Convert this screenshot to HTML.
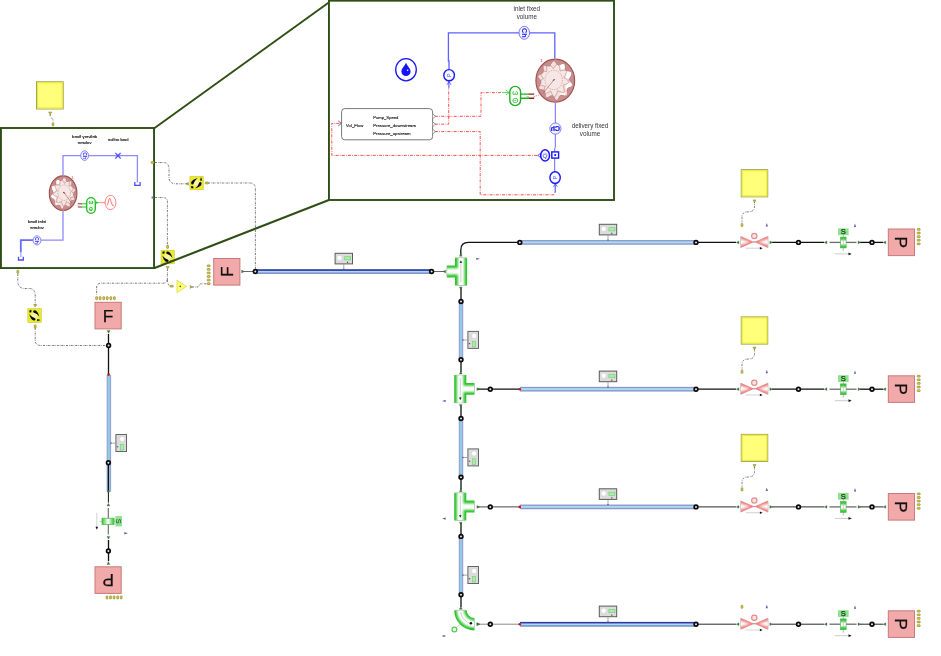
<!DOCTYPE html>
<html lang="en"><head><meta charset="utf-8"><title>Hydraulic circuit diagram</title>
<style>html,body{margin:0;padding:0;background:#fff}body{width:941px;height:656px;overflow:hidden}svg{display:block}</style>
</head><body>
<svg width="941" height="656" viewBox="0 0 941 656">
<defs>
<linearGradient id="gtee" x1="0" y1="0" x2="1" y2="0"><stop offset="0" stop-color="#2fc42f"/><stop offset="0.5" stop-color="#ffffff"/><stop offset="1" stop-color="#2fc42f"/></linearGradient>
<linearGradient id="gteeh" x1="0" y1="0" x2="0" y2="1"><stop offset="0" stop-color="#2fc42f"/><stop offset="0.5" stop-color="#ffffff"/><stop offset="1" stop-color="#2fc42f"/></linearGradient>
<linearGradient id="gcyl" x1="0" y1="0" x2="0" y2="1"><stop offset="0" stop-color="#2fc42f"/><stop offset="0.16" stop-color="#3cc83c"/><stop offset="0.4" stop-color="#ffffff"/><stop offset="0.6" stop-color="#ffffff"/><stop offset="0.84" stop-color="#3cc83c"/><stop offset="1" stop-color="#2fc42f"/></linearGradient>
<linearGradient id="gvL" x1="0" y1="0" x2="1" y2="0"><stop offset="0" stop-color="#ffffff"/><stop offset="1" stop-color="#ee7c7c"/></linearGradient>
<linearGradient id="gvR" x1="0" y1="0" x2="1" y2="0"><stop offset="0" stop-color="#ee7c7c"/><stop offset="1" stop-color="#ffffff"/></linearGradient>
<radialGradient id="gelb" cx="1" cy="0" r="1" gradientUnits="objectBoundingBox"><stop offset="0.42" stop-color="#2fc42f"/><stop offset="0.72" stop-color="#ffffff"/><stop offset="1" stop-color="#2fc42f"/></radialGradient>
<filter id="blur1" x="-20%" y="-20%" width="140%" height="140%"><feGaussianBlur stdDeviation="1.15"/></filter>
<filter id="blur08" x="-20%" y="-30%" width="140%" height="160%"><feGaussianBlur stdDeviation="0.8"/></filter>
<filter id="noop" x="0" y="0" width="941" height="656" filterUnits="userSpaceOnUse" color-interpolation-filters="sRGB"><feGaussianBlur stdDeviation="0.38"/></filter>
</defs>
<rect width="941" height="656" fill="#fff"/>
<g filter="url(#noop)">
<path d="M50.2 114 V116.5 L52.9 119.5 V122" fill="none" stroke="#4a4a4a" stroke-width="0.75" stroke-dasharray="2 1 0.6 1"/>
<path d="M155 162.5 H163 Q169 162.5 169 169 V177 Q169 183.8 176 183.8 H188" fill="none" stroke="#4a4a4a" stroke-width="0.75" stroke-dasharray="2 1 0.6 1"/>
<path d="M208 183 H250 Q255.4 183 255.4 189 V269" fill="none" stroke="#4a4a4a" stroke-width="0.75" stroke-dasharray="2 1 0.6 1"/>
<path d="M155 197.5 H163 Q167.4 197.5 167.4 202 V246" fill="none" stroke="#4a4a4a" stroke-width="0.75" stroke-dasharray="2 1 0.6 1"/>
<path d="M167.4 269 V279.5" fill="none" stroke="#4a4a4a" stroke-width="0.75" stroke-dasharray="2 1 0.6 1"/>
<path d="M167.2 279.5 Q166.6 283.2 163 283.2 H101 Q96.6 283.2 96.6 288 V295" fill="none" stroke="#4a4a4a" stroke-width="0.75" stroke-dasharray="2 1 0.6 1"/>
<path d="M167.4 279.5 Q167.6 286.2 171 286.2" fill="none" stroke="#4a4a4a" stroke-width="0.75" stroke-dasharray="2 1 0.6 1"/>
<path d="M192 287 H198 L200.4 283.8 H207" fill="none" stroke="#4a4a4a" stroke-width="0.75" stroke-dasharray="2 1 0.6 1"/>
<path d="M17.8 274 V281 Q17.8 288.5 25 288.5 H29 Q35.2 288.5 35.2 295 V305" fill="none" stroke="#4a4a4a" stroke-width="0.75" stroke-dasharray="2 1 0.6 1"/>
<path d="M35.2 328 V340 Q35.2 345.5 41 345.5 H106" fill="none" stroke="#4a4a4a" stroke-width="0.75" stroke-dasharray="2 1 0.6 1"/>
<path d="M754.5 201.3 V206.3 Q754.5 211.8 748 211.8 Q742 211.8 742 217.3 V222.3" fill="none" stroke="#4a4a4a" stroke-width="0.75" stroke-dasharray="2 1 0.6 1"/>
<path d="M754.5 348.6 V353.6 Q754.5 359.1 748 359.1 Q742 359.1 742 364.6 V369.6" fill="none" stroke="#4a4a4a" stroke-width="0.75" stroke-dasharray="2 1 0.6 1"/>
<path d="M754.5 466.5 V471.5 Q754.5 477.0 748 477.0 Q742 477.0 742 482.5 V487.5" fill="none" stroke="#4a4a4a" stroke-width="0.75" stroke-dasharray="2 1 0.6 1"/>
<path d="M244 271.5 H255" fill="none" stroke="#555" stroke-width="0.9"/>
<path d="M432 271.5 H444" fill="none" stroke="#555" stroke-width="0.9"/>
<path d="M460.8 255 V250 Q460.8 242.4 468.5 242.4 H519" fill="none" stroke="#111" stroke-width="1.3"/>
<path d="M108.5 334 V374" fill="none" stroke="#111" stroke-width="1.3"/>
<path d="M108.4 491 V502.6" fill="none" stroke="#111" stroke-width="1"/>
<path d="M108.5 540 V561" fill="none" stroke="#111" stroke-width="1.3"/>
<path d="M461 288 V301" fill="none" stroke="#111" stroke-width="1.3"/>
<path d="M461 359 V372" fill="none" stroke="#111" stroke-width="1.3"/>
<path d="M461 406 V418" fill="none" stroke="#111" stroke-width="1.3"/>
<path d="M461 477 V490" fill="none" stroke="#111" stroke-width="1.3"/>
<path d="M461 523 V536" fill="none" stroke="#111" stroke-width="1.3"/>
<path d="M461 594 V607" fill="none" stroke="#111" stroke-width="1.3"/>
<rect x="256" y="269.1" width="175" height="4.8" fill="#8a9ad6"/>
<rect x="256" y="269.5" width="175" height="1.35" fill="#1c1c9e"/>
<rect x="256" y="270.85" width="175" height="1.75" fill="#a6dcf0"/>
<rect x="256" y="272.6" width="175" height="1.2" fill="#7c93c8"/>
<rect x="520" y="240.05" width="175" height="4.7" fill="#8e95cc"/>
<rect x="520" y="241.35" width="175" height="2.0" fill="#a8dcf0"/>
<rect x="520" y="386.84999999999997" width="175" height="4.7" fill="#8e95cc"/>
<rect x="520" y="388.15" width="175" height="2.0" fill="#a8dcf0"/>
<rect x="520" y="504.54999999999995" width="175" height="4.7" fill="#8e95cc"/>
<rect x="520" y="505.84999999999997" width="175" height="2.0" fill="#a8dcf0"/>
<rect x="520" y="621.8000000000001" width="175" height="4.8" fill="#8a9ad6"/>
<rect x="520" y="622.2" width="175" height="1.35" fill="#1c1c9e"/>
<rect x="520" y="623.5500000000001" width="175" height="1.75" fill="#a6dcf0"/>
<rect x="520" y="625.3000000000001" width="175" height="1.2" fill="#7c93c8"/>
<rect x="458.8" y="302" width="4.4" height="57" fill="#8a92cc"/>
<rect x="459.55" y="302" width="2.9" height="57" fill="#96c8e6"/>
<rect x="458.8" y="419" width="4.4" height="58" fill="#8a92cc"/>
<rect x="459.55" y="419" width="2.9" height="58" fill="#96c8e6"/>
<rect x="458.8" y="537" width="4.4" height="57" fill="#8a92cc"/>
<rect x="459.55" y="537" width="2.9" height="57" fill="#96c8e6"/>
<rect x="106.7" y="375" width="4.4" height="116.60000000000002" fill="#8a92cc"/>
<rect x="107.45" y="375" width="2.9" height="116.60000000000002" fill="#96c8e6"/>
<line x1="108.4" y1="462.7" x2="108.4" y2="491.4" stroke="#111" stroke-width="1.3"/>
<circle cx="108.4" cy="491.4" r="1.2" fill="#2f7f2f"/>
<circle cx="519.8" cy="242.4" r="1.85" fill="#e8e8e8" stroke="#0a0a0a" stroke-width="1.7"/>
<path d="M696 242.4 H736" fill="none" stroke="#111" stroke-width="1.3"/>
<path d="M772 242.4 H824" fill="none" stroke="#111" stroke-width="1.3"/>
<path d="M860 242.4 H883" fill="none" stroke="#111" stroke-width="1.3"/>
<circle cx="696" cy="242.4" r="1.85" fill="#e8e8e8" stroke="#0a0a0a" stroke-width="1.7"/>
<polygon points="739.0,241.0 736.2,242.4 739.0,243.8" fill="#3d7a3d" stroke="#2f5f2f" stroke-width="0.3"/>
<polygon points="769.8000000000001,241.0 772.6,242.4 769.8000000000001,243.8" fill="#3d7a3d" stroke="#2f5f2f" stroke-width="0.3"/>
<clipPath id="vc1"><polygon points="740.5,236.0 754.3,242.0 740.5,248.0"/><polygon points="768.0999999999999,236.0 754.3,242.0 768.0999999999999,248.0"/></clipPath>
<polygon points="740.5,236.0 754.3,242.0 740.5,248.0" fill="#ee8080"/><polygon points="768.0999999999999,236.0 754.3,242.0 768.0999999999999,248.0" fill="#ee8080"/>
<g clip-path="url(#vc1)"><g filter="url(#blur08)"><polygon points="737.5,238.2 750.3,242.0 737.5,245.8" fill="#fff"/><polygon points="771.0999999999999,238.2 758.3,242.0 771.0999999999999,245.8" fill="#fff"/></g></g>
<line x1="740.5" y1="236.6" x2="740.5" y2="247.4" stroke="#c8c8c8" stroke-width="0.7"/>
<line x1="768.0999999999999" y1="236.6" x2="768.0999999999999" y2="247.4" stroke="#c8c8c8" stroke-width="0.7"/>
<circle cx="754.3" cy="236.0" r="2.65" fill="#fbe6e6" stroke="#e88a8a" stroke-width="1.2"/>
<rect x="753.4" y="241.4" width="1.8" height="1.2" fill="#999"/>
<line x1="745.8" y1="248.2" x2="760.3" y2="248.2" stroke="#c0c0c0" stroke-width="0.7"/>
<polygon points="759.9,247.0 762.5999999999999,248.2 759.9,249.4" fill="#111"/>
<circle cx="798.5" cy="242.4" r="1.85" fill="#e8e8e8" stroke="#0a0a0a" stroke-width="1.7"/>
<polygon points="827.0,241.0 824.2,242.4 827.0,243.8" fill="#3d7a3d" stroke="#2f5f2f" stroke-width="0.3"/>
<polygon points="858.0,241.0 860.8,242.4 858.0,243.8" fill="#3d7a3d" stroke="#2f5f2f" stroke-width="0.3"/>
<line x1="829.5" y1="242.4" x2="856.5" y2="242.4" stroke="#6c6c6c" stroke-width="1.3"/>
<line x1="843.3" y1="234.9" x2="843.3" y2="250.9" stroke="#888" stroke-width="0.6"/>
<rect x="840.5" y="237.1" width="5.6" height="10.8" fill="url(#gcyl)" stroke="#3fb83f" stroke-width="0.6"/>
<line x1="843.3" y1="237.8" x2="843.3" y2="247.0" stroke="#b0b0b0" stroke-width="0.6"/>
<rect x="838.0" y="228.4" width="10.6" height="6.8" fill="#8fe28f"/>
<text x="843.3" y="234.4" font-family="'Liberation Sans', sans-serif" font-size="7.6" text-anchor="middle" fill="#143214" stroke="#143214" stroke-width="0.25">S</text>
<line x1="834.8" y1="253.9" x2="849.3" y2="253.9" stroke="#aaa" stroke-width="0.6"/>
<polygon points="848.5,252.5 851.6999999999999,253.9 848.5,255.3" fill="#111"/>
<circle cx="872" cy="242.4" r="1.85" fill="#e8e8e8" stroke="#0a0a0a" stroke-width="1.7"/>
<polygon points="885.8,241.0 883.0,242.4 885.8,243.8" fill="#3d7a3d" stroke="#2f5f2f" stroke-width="0.3"/>
<rect x="888.3" y="229.0" width="26.2" height="26.6" fill="#f2a9a9" stroke="#c97a7a" stroke-width="1"/>
<text x="901.4" y="242.3" font-family="'Liberation Sans', sans-serif" font-size="17.4" text-anchor="middle" dominant-baseline="central" fill="#111" stroke="#111" stroke-width="0.25" transform="rotate(90 901.4 242.3)">P</text>
<rect x="917.2" y="228.5" width="3" height="1.8" rx="0.5" fill="#e2d42e" stroke="#77702a" stroke-width="0.55"/>
<rect x="917.2" y="232.1" width="3" height="1.8" rx="0.5" fill="#e2d42e" stroke="#77702a" stroke-width="0.55"/>
<rect x="917.2" y="235.7" width="3" height="1.8" rx="0.5" fill="#e2d42e" stroke="#77702a" stroke-width="0.55"/>
<rect x="917.2" y="239.3" width="3" height="1.8" rx="0.5" fill="#e2d42e" stroke="#77702a" stroke-width="0.55"/>
<rect x="917.2" y="242.9" width="3" height="1.8" rx="0.5" fill="#e2d42e" stroke="#77702a" stroke-width="0.55"/>
<rect x="741.1" y="223.5" width="1.8" height="3" rx="0.5" fill="#e2d42e" stroke="#77702a" stroke-width="0.55"/>
<polygon points="765.6999999999999,226.4 766.8,223.0 767.9,226.4" fill="#5a5aa0"/>
<polygon points="853.9,227.0 855,223.6 856.1,227.0" fill="#5a5aa0"/>
<line x1="608.0" y1="235.4" x2="608.0" y2="240.4" stroke="#aaa" stroke-width="1"/>
<rect x="607.4" y="239.5" width="1.2" height="1.2" fill="#556"/>
<rect x="599.3" y="224.3" width="17.4" height="10.6" fill="#dcdcdc" stroke="#5a5a5a" stroke-width="1"/>
<circle cx="603.6999999999999" cy="228.9" r="2.7" fill="#fff" stroke="#c4c4c4" stroke-width="0.5"/>
<rect x="608.9" y="227.70000000000002" width="6" height="3.2" fill="#a4f2a4" stroke="#7ac87a" stroke-width="0.6"/>
<rect x="611.3" y="232.70000000000002" width="1" height="1.4" fill="#444"/>
<path d="M478 389.2 H519" fill="none" stroke="#111" stroke-width="1.2"/>
<circle cx="519.8" cy="389.2" r="1.3" fill="#d01010"/>
<circle cx="490.3" cy="389.2" r="1.85" fill="#e8e8e8" stroke="#0a0a0a" stroke-width="1.7"/>
<polygon points="476.90000000000003,387.8 479.7,389.2 476.90000000000003,390.59999999999997" fill="#3d7a3d" stroke="#2f5f2f" stroke-width="0.3"/>
<path d="M696 389.2 H736" fill="none" stroke="#111" stroke-width="1.3"/>
<path d="M772 389.2 H824" fill="none" stroke="#111" stroke-width="1.3"/>
<path d="M860 389.2 H883" fill="none" stroke="#111" stroke-width="1.3"/>
<circle cx="696" cy="389.2" r="1.85" fill="#e8e8e8" stroke="#0a0a0a" stroke-width="1.7"/>
<polygon points="739.0,387.8 736.2,389.2 739.0,390.59999999999997" fill="#3d7a3d" stroke="#2f5f2f" stroke-width="0.3"/>
<polygon points="769.8000000000001,387.8 772.6,389.2 769.8000000000001,390.59999999999997" fill="#3d7a3d" stroke="#2f5f2f" stroke-width="0.3"/>
<clipPath id="vc2"><polygon points="740.5,382.8 754.3,388.8 740.5,394.8"/><polygon points="768.0999999999999,382.8 754.3,388.8 768.0999999999999,394.8"/></clipPath>
<polygon points="740.5,382.8 754.3,388.8 740.5,394.8" fill="#ee8080"/><polygon points="768.0999999999999,382.8 754.3,388.8 768.0999999999999,394.8" fill="#ee8080"/>
<g clip-path="url(#vc2)"><g filter="url(#blur08)"><polygon points="737.5,385.0 750.3,388.8 737.5,392.6" fill="#fff"/><polygon points="771.0999999999999,385.0 758.3,388.8 771.0999999999999,392.6" fill="#fff"/></g></g>
<line x1="740.5" y1="383.40000000000003" x2="740.5" y2="394.2" stroke="#c8c8c8" stroke-width="0.7"/>
<line x1="768.0999999999999" y1="383.40000000000003" x2="768.0999999999999" y2="394.2" stroke="#c8c8c8" stroke-width="0.7"/>
<circle cx="754.3" cy="382.8" r="2.65" fill="#fbe6e6" stroke="#e88a8a" stroke-width="1.2"/>
<rect x="753.4" y="388.2" width="1.8" height="1.2" fill="#999"/>
<line x1="745.8" y1="395.0" x2="760.3" y2="395.0" stroke="#c0c0c0" stroke-width="0.7"/>
<polygon points="759.9,393.8 762.5999999999999,395.0 759.9,396.2" fill="#111"/>
<circle cx="798.5" cy="389.2" r="1.85" fill="#e8e8e8" stroke="#0a0a0a" stroke-width="1.7"/>
<polygon points="827.0,387.8 824.2,389.2 827.0,390.59999999999997" fill="#3d7a3d" stroke="#2f5f2f" stroke-width="0.3"/>
<polygon points="858.0,387.8 860.8,389.2 858.0,390.59999999999997" fill="#3d7a3d" stroke="#2f5f2f" stroke-width="0.3"/>
<line x1="829.5" y1="389.2" x2="856.5" y2="389.2" stroke="#6c6c6c" stroke-width="1.3"/>
<line x1="843.3" y1="381.7" x2="843.3" y2="397.7" stroke="#888" stroke-width="0.6"/>
<rect x="840.5" y="383.9" width="5.6" height="10.8" fill="url(#gcyl)" stroke="#3fb83f" stroke-width="0.6"/>
<line x1="843.3" y1="384.59999999999997" x2="843.3" y2="393.8" stroke="#b0b0b0" stroke-width="0.6"/>
<rect x="838.0" y="375.2" width="10.6" height="6.8" fill="#8fe28f"/>
<text x="843.3" y="381.2" font-family="'Liberation Sans', sans-serif" font-size="7.6" text-anchor="middle" fill="#143214" stroke="#143214" stroke-width="0.25">S</text>
<line x1="834.8" y1="400.7" x2="849.3" y2="400.7" stroke="#aaa" stroke-width="0.6"/>
<polygon points="848.5,399.3 851.6999999999999,400.7 848.5,402.09999999999997" fill="#111"/>
<circle cx="872" cy="389.2" r="1.85" fill="#e8e8e8" stroke="#0a0a0a" stroke-width="1.7"/>
<polygon points="885.8,387.8 883.0,389.2 885.8,390.59999999999997" fill="#3d7a3d" stroke="#2f5f2f" stroke-width="0.3"/>
<rect x="888.3" y="375.8" width="26.2" height="26.6" fill="#f2a9a9" stroke="#c97a7a" stroke-width="1"/>
<text x="901.4" y="389.1" font-family="'Liberation Sans', sans-serif" font-size="17.4" text-anchor="middle" dominant-baseline="central" fill="#111" stroke="#111" stroke-width="0.25" transform="rotate(90 901.4 389.1)">P</text>
<rect x="917.2" y="375.3" width="3" height="1.8" rx="0.5" fill="#e2d42e" stroke="#77702a" stroke-width="0.55"/>
<rect x="917.2" y="378.90000000000003" width="3" height="1.8" rx="0.5" fill="#e2d42e" stroke="#77702a" stroke-width="0.55"/>
<rect x="917.2" y="382.5" width="3" height="1.8" rx="0.5" fill="#e2d42e" stroke="#77702a" stroke-width="0.55"/>
<rect x="917.2" y="386.1" width="3" height="1.8" rx="0.5" fill="#e2d42e" stroke="#77702a" stroke-width="0.55"/>
<rect x="917.2" y="389.7" width="3" height="1.8" rx="0.5" fill="#e2d42e" stroke="#77702a" stroke-width="0.55"/>
<rect x="741.1" y="370.3" width="1.8" height="3" rx="0.5" fill="#e2d42e" stroke="#77702a" stroke-width="0.55"/>
<polygon points="765.6999999999999,373.2 766.8,369.79999999999995 767.9,373.2" fill="#5a5aa0"/>
<polygon points="853.9,373.8 855,370.4 856.1,373.8" fill="#5a5aa0"/>
<line x1="608.0" y1="382.2" x2="608.0" y2="387.2" stroke="#aaa" stroke-width="1"/>
<rect x="607.4" y="386.3" width="1.2" height="1.2" fill="#556"/>
<rect x="599.3" y="371.09999999999997" width="17.4" height="10.6" fill="#dcdcdc" stroke="#5a5a5a" stroke-width="1"/>
<circle cx="603.6999999999999" cy="375.7" r="2.7" fill="#fff" stroke="#c4c4c4" stroke-width="0.5"/>
<rect x="608.9" y="374.49999999999994" width="6" height="3.2" fill="#a4f2a4" stroke="#7ac87a" stroke-width="0.6"/>
<rect x="611.3" y="379.49999999999994" width="1" height="1.4" fill="#444"/>
<path d="M478 506.9 H519" fill="none" stroke="#333" stroke-width="0.9"/>
<circle cx="519.8" cy="506.9" r="1.3" fill="#d01010"/>
<circle cx="490.3" cy="506.9" r="1.85" fill="#e8e8e8" stroke="#0a0a0a" stroke-width="1.7"/>
<polygon points="476.90000000000003,505.5 479.7,506.9 476.90000000000003,508.29999999999995" fill="#3d7a3d" stroke="#2f5f2f" stroke-width="0.3"/>
<path d="M696 506.9 H736" fill="none" stroke="#111" stroke-width="0.9"/>
<path d="M772 506.9 H824" fill="none" stroke="#111" stroke-width="0.9"/>
<path d="M860 506.9 H883" fill="none" stroke="#111" stroke-width="0.9"/>
<circle cx="696" cy="506.9" r="1.85" fill="#e8e8e8" stroke="#0a0a0a" stroke-width="1.7"/>
<polygon points="739.0,505.5 736.2,506.9 739.0,508.29999999999995" fill="#3d7a3d" stroke="#2f5f2f" stroke-width="0.3"/>
<polygon points="769.8000000000001,505.5 772.6,506.9 769.8000000000001,508.29999999999995" fill="#3d7a3d" stroke="#2f5f2f" stroke-width="0.3"/>
<clipPath id="vc3"><polygon points="740.5,500.5 754.3,506.5 740.5,512.5"/><polygon points="768.0999999999999,500.5 754.3,506.5 768.0999999999999,512.5"/></clipPath>
<polygon points="740.5,500.5 754.3,506.5 740.5,512.5" fill="#ee8080"/><polygon points="768.0999999999999,500.5 754.3,506.5 768.0999999999999,512.5" fill="#ee8080"/>
<g clip-path="url(#vc3)"><g filter="url(#blur08)"><polygon points="737.5,502.7 750.3,506.5 737.5,510.3" fill="#fff"/><polygon points="771.0999999999999,502.7 758.3,506.5 771.0999999999999,510.3" fill="#fff"/></g></g>
<line x1="740.5" y1="501.1" x2="740.5" y2="511.9" stroke="#c8c8c8" stroke-width="0.7"/>
<line x1="768.0999999999999" y1="501.1" x2="768.0999999999999" y2="511.9" stroke="#c8c8c8" stroke-width="0.7"/>
<circle cx="754.3" cy="500.5" r="2.65" fill="#fbe6e6" stroke="#e88a8a" stroke-width="1.2"/>
<rect x="753.4" y="505.9" width="1.8" height="1.2" fill="#999"/>
<line x1="745.8" y1="512.7" x2="760.3" y2="512.7" stroke="#c0c0c0" stroke-width="0.7"/>
<polygon points="759.9,511.5 762.5999999999999,512.7 759.9,513.9" fill="#111"/>
<circle cx="798.5" cy="506.9" r="1.85" fill="#e8e8e8" stroke="#0a0a0a" stroke-width="1.7"/>
<polygon points="827.0,505.5 824.2,506.9 827.0,508.29999999999995" fill="#3d7a3d" stroke="#2f5f2f" stroke-width="0.3"/>
<polygon points="858.0,505.5 860.8,506.9 858.0,508.29999999999995" fill="#3d7a3d" stroke="#2f5f2f" stroke-width="0.3"/>
<line x1="829.5" y1="506.9" x2="856.5" y2="506.9" stroke="#6c6c6c" stroke-width="1.3"/>
<line x1="843.3" y1="499.4" x2="843.3" y2="515.4" stroke="#888" stroke-width="0.6"/>
<rect x="840.5" y="501.59999999999997" width="5.6" height="10.8" fill="url(#gcyl)" stroke="#3fb83f" stroke-width="0.6"/>
<line x1="843.3" y1="502.29999999999995" x2="843.3" y2="511.5" stroke="#b0b0b0" stroke-width="0.6"/>
<rect x="838.0" y="492.9" width="10.6" height="6.8" fill="#8fe28f"/>
<text x="843.3" y="498.9" font-family="'Liberation Sans', sans-serif" font-size="7.6" text-anchor="middle" fill="#143214" stroke="#143214" stroke-width="0.25">S</text>
<line x1="834.8" y1="518.4" x2="849.3" y2="518.4" stroke="#aaa" stroke-width="0.6"/>
<polygon points="848.5,517.0 851.6999999999999,518.4 848.5,519.8" fill="#111"/>
<circle cx="872" cy="506.9" r="1.85" fill="#e8e8e8" stroke="#0a0a0a" stroke-width="1.7"/>
<polygon points="885.8,505.5 883.0,506.9 885.8,508.29999999999995" fill="#3d7a3d" stroke="#2f5f2f" stroke-width="0.3"/>
<rect x="888.3" y="493.5" width="26.2" height="26.6" fill="#f2a9a9" stroke="#c97a7a" stroke-width="1"/>
<text x="901.4" y="506.8" font-family="'Liberation Sans', sans-serif" font-size="17.4" text-anchor="middle" dominant-baseline="central" fill="#111" stroke="#111" stroke-width="0.25" transform="rotate(90 901.4 506.8)">P</text>
<rect x="917.2" y="493.0" width="3" height="1.8" rx="0.5" fill="#e2d42e" stroke="#77702a" stroke-width="0.55"/>
<rect x="917.2" y="496.6" width="3" height="1.8" rx="0.5" fill="#e2d42e" stroke="#77702a" stroke-width="0.55"/>
<rect x="917.2" y="500.2" width="3" height="1.8" rx="0.5" fill="#e2d42e" stroke="#77702a" stroke-width="0.55"/>
<rect x="917.2" y="503.8" width="3" height="1.8" rx="0.5" fill="#e2d42e" stroke="#77702a" stroke-width="0.55"/>
<rect x="917.2" y="507.4" width="3" height="1.8" rx="0.5" fill="#e2d42e" stroke="#77702a" stroke-width="0.55"/>
<rect x="741.1" y="488.0" width="1.8" height="3" rx="0.5" fill="#e2d42e" stroke="#77702a" stroke-width="0.55"/>
<polygon points="765.6999999999999,490.9 766.8,487.49999999999994 767.9,490.9" fill="#5a5aa0"/>
<polygon points="853.9,491.5 855,488.09999999999997 856.1,491.5" fill="#5a5aa0"/>
<line x1="608.0" y1="499.9" x2="608.0" y2="504.9" stroke="#aaa" stroke-width="1"/>
<rect x="607.4" y="504.0" width="1.2" height="1.2" fill="#556"/>
<rect x="599.3" y="488.79999999999995" width="17.4" height="10.6" fill="#dcdcdc" stroke="#5a5a5a" stroke-width="1"/>
<circle cx="603.6999999999999" cy="493.4" r="2.7" fill="#fff" stroke="#c4c4c4" stroke-width="0.5"/>
<rect x="608.9" y="492.19999999999993" width="6" height="3.2" fill="#a4f2a4" stroke="#7ac87a" stroke-width="0.6"/>
<rect x="611.3" y="497.19999999999993" width="1" height="1.4" fill="#444"/>
<path d="M478 624.2 H519" fill="none" stroke="#8a8a8a" stroke-width="1"/>
<circle cx="519.8" cy="624.2" r="1.3" fill="#d01010"/>
<circle cx="490.3" cy="624.2" r="1.85" fill="#e8e8e8" stroke="#0a0a0a" stroke-width="1.7"/>
<polygon points="476.90000000000003,622.8000000000001 479.7,624.2 476.90000000000003,625.6" fill="#3d7a3d" stroke="#2f5f2f" stroke-width="0.3"/>
<path d="M696 624.2 H736" fill="none" stroke="#111" stroke-width="0.9"/>
<path d="M772 624.2 H824" fill="none" stroke="#111" stroke-width="0.9"/>
<path d="M860 624.2 H883" fill="none" stroke="#111" stroke-width="0.9"/>
<circle cx="696" cy="624.2" r="1.85" fill="#e8e8e8" stroke="#0a0a0a" stroke-width="1.7"/>
<polygon points="739.0,622.8000000000001 736.2,624.2 739.0,625.6" fill="#3d7a3d" stroke="#2f5f2f" stroke-width="0.3"/>
<polygon points="769.8000000000001,622.8000000000001 772.6,624.2 769.8000000000001,625.6" fill="#3d7a3d" stroke="#2f5f2f" stroke-width="0.3"/>
<clipPath id="vc4"><polygon points="740.5,617.8000000000001 754.3,623.8000000000001 740.5,629.8000000000001"/><polygon points="768.0999999999999,617.8000000000001 754.3,623.8000000000001 768.0999999999999,629.8000000000001"/></clipPath>
<polygon points="740.5,617.8000000000001 754.3,623.8000000000001 740.5,629.8000000000001" fill="#ee8080"/><polygon points="768.0999999999999,617.8000000000001 754.3,623.8000000000001 768.0999999999999,629.8000000000001" fill="#ee8080"/>
<g clip-path="url(#vc4)"><g filter="url(#blur08)"><polygon points="737.5,620.0000000000001 750.3,623.8000000000001 737.5,627.6" fill="#fff"/><polygon points="771.0999999999999,620.0000000000001 758.3,623.8000000000001 771.0999999999999,627.6" fill="#fff"/></g></g>
<line x1="740.5" y1="618.4000000000001" x2="740.5" y2="629.2" stroke="#c8c8c8" stroke-width="0.7"/>
<line x1="768.0999999999999" y1="618.4000000000001" x2="768.0999999999999" y2="629.2" stroke="#c8c8c8" stroke-width="0.7"/>
<circle cx="754.3" cy="617.8000000000001" r="2.65" fill="#fbe6e6" stroke="#e88a8a" stroke-width="1.2"/>
<rect x="753.4" y="623.2" width="1.8" height="1.2" fill="#999"/>
<line x1="745.8" y1="630.0000000000001" x2="760.3" y2="630.0000000000001" stroke="#c0c0c0" stroke-width="0.7"/>
<polygon points="759.9,628.8000000000001 762.5999999999999,630.0000000000001 759.9,631.2" fill="#111"/>
<circle cx="798.5" cy="624.2" r="1.85" fill="#e8e8e8" stroke="#0a0a0a" stroke-width="1.7"/>
<polygon points="827.0,622.8000000000001 824.2,624.2 827.0,625.6" fill="#3d7a3d" stroke="#2f5f2f" stroke-width="0.3"/>
<polygon points="858.0,622.8000000000001 860.8,624.2 858.0,625.6" fill="#3d7a3d" stroke="#2f5f2f" stroke-width="0.3"/>
<line x1="829.5" y1="624.2" x2="856.5" y2="624.2" stroke="#6c6c6c" stroke-width="1.3"/>
<line x1="843.3" y1="616.7" x2="843.3" y2="632.7" stroke="#888" stroke-width="0.6"/>
<rect x="840.5" y="618.9000000000001" width="5.6" height="10.8" fill="url(#gcyl)" stroke="#3fb83f" stroke-width="0.6"/>
<line x1="843.3" y1="619.6" x2="843.3" y2="628.8000000000001" stroke="#b0b0b0" stroke-width="0.6"/>
<rect x="838.0" y="610.2" width="10.6" height="6.8" fill="#8fe28f"/>
<text x="843.3" y="616.2" font-family="'Liberation Sans', sans-serif" font-size="7.6" text-anchor="middle" fill="#143214" stroke="#143214" stroke-width="0.25">S</text>
<line x1="834.8" y1="635.7" x2="849.3" y2="635.7" stroke="#aaa" stroke-width="0.6"/>
<polygon points="848.5,634.3000000000001 851.6999999999999,635.7 848.5,637.1" fill="#111"/>
<circle cx="872" cy="624.2" r="1.85" fill="#e8e8e8" stroke="#0a0a0a" stroke-width="1.7"/>
<polygon points="885.8,622.8000000000001 883.0,624.2 885.8,625.6" fill="#3d7a3d" stroke="#2f5f2f" stroke-width="0.3"/>
<rect x="888.3" y="610.8000000000001" width="26.2" height="26.6" fill="#f2a9a9" stroke="#c97a7a" stroke-width="1"/>
<text x="901.4" y="624.1" font-family="'Liberation Sans', sans-serif" font-size="17.4" text-anchor="middle" dominant-baseline="central" fill="#111" stroke="#111" stroke-width="0.25" transform="rotate(90 901.4 624.1)">P</text>
<rect x="917.2" y="610.3000000000001" width="3" height="1.8" rx="0.5" fill="#e2d42e" stroke="#77702a" stroke-width="0.55"/>
<rect x="917.2" y="613.9000000000001" width="3" height="1.8" rx="0.5" fill="#e2d42e" stroke="#77702a" stroke-width="0.55"/>
<rect x="917.2" y="617.5000000000001" width="3" height="1.8" rx="0.5" fill="#e2d42e" stroke="#77702a" stroke-width="0.55"/>
<rect x="917.2" y="621.1" width="3" height="1.8" rx="0.5" fill="#e2d42e" stroke="#77702a" stroke-width="0.55"/>
<rect x="917.2" y="624.7" width="3" height="1.8" rx="0.5" fill="#e2d42e" stroke="#77702a" stroke-width="0.55"/>
<rect x="741.1" y="605.3000000000001" width="1.8" height="3" rx="0.5" fill="#e2d42e" stroke="#77702a" stroke-width="0.55"/>
<polygon points="765.6999999999999,608.2 766.8,604.8000000000001 767.9,608.2" fill="#5a5aa0"/>
<polygon points="853.9,608.8000000000001 855,605.4000000000001 856.1,608.8000000000001" fill="#5a5aa0"/>
<line x1="608.0" y1="617.2" x2="608.0" y2="622.2" stroke="#aaa" stroke-width="1"/>
<rect x="607.4" y="621.3000000000001" width="1.2" height="1.2" fill="#556"/>
<rect x="599.3" y="606.1" width="17.4" height="10.6" fill="#dcdcdc" stroke="#5a5a5a" stroke-width="1"/>
<circle cx="603.6999999999999" cy="610.7" r="2.7" fill="#fff" stroke="#c4c4c4" stroke-width="0.5"/>
<rect x="608.9" y="609.5" width="6" height="3.2" fill="#a4f2a4" stroke="#7ac87a" stroke-width="0.6"/>
<rect x="611.3" y="614.5" width="1" height="1.4" fill="#444"/>
<rect x="741.1999999999999" y="169.70000000000002" width="26.599999999999998" height="27.2" fill="#ffff7a" stroke="#8e8e3a" stroke-width="0.8"/>
<rect x="742.1999999999999" y="170.70000000000002" width="24.599999999999998" height="25.2" fill="none" stroke="#eaea44" stroke-width="1.2"/>
<polygon points="753,199.9 756,199.9 754.5,202.70000000000002" fill="#c9c030" stroke="#6b6b20" stroke-width="0.4"/>
<rect x="741.1999999999999" y="316.9" width="26.599999999999998" height="27.2" fill="#ffff7a" stroke="#8e8e3a" stroke-width="0.8"/>
<rect x="742.1999999999999" y="317.9" width="24.599999999999998" height="25.2" fill="none" stroke="#eaea44" stroke-width="1.2"/>
<polygon points="753,347.1 756,347.1 754.5,349.9" fill="#c9c030" stroke="#6b6b20" stroke-width="0.4"/>
<rect x="741.1999999999999" y="434.29999999999995" width="26.599999999999998" height="27.2" fill="#ffff7a" stroke="#8e8e3a" stroke-width="0.8"/>
<rect x="742.1999999999999" y="435.29999999999995" width="24.599999999999998" height="25.2" fill="none" stroke="#eaea44" stroke-width="1.2"/>
<polygon points="753,464.5 756,464.5 754.5,467.29999999999995" fill="#c9c030" stroke="#6b6b20" stroke-width="0.4"/>
<line x1="467.4" y1="340.0" x2="462.6" y2="340.0" stroke="#aaa" stroke-width="1"/>
<rect x="462.3" y="339.4" width="1.2" height="1.2" fill="#556"/>
<rect x="467.9" y="331.4" width="10.6" height="17" fill="#dcdcdc" stroke="#666" stroke-width="1"/>
<circle cx="474.2" cy="335.9" r="2.6" fill="#fff" stroke="#c4c4c4" stroke-width="0.5"/>
<rect x="472.4" y="341.29999999999995" width="3.2" height="5.6" fill="#a4f2a4" stroke="#7ac87a" stroke-width="0.6"/>
<rect x="468.79999999999995" y="343.2" width="1.4" height="1" fill="#444"/>
<line x1="467.4" y1="457.5" x2="462.6" y2="457.5" stroke="#aaa" stroke-width="1"/>
<rect x="462.3" y="456.9" width="1.2" height="1.2" fill="#556"/>
<rect x="467.9" y="448.9" width="10.6" height="17" fill="#dcdcdc" stroke="#666" stroke-width="1"/>
<circle cx="474.2" cy="453.4" r="2.6" fill="#fff" stroke="#c4c4c4" stroke-width="0.5"/>
<rect x="472.4" y="458.79999999999995" width="3.2" height="5.6" fill="#a4f2a4" stroke="#7ac87a" stroke-width="0.6"/>
<rect x="468.79999999999995" y="460.7" width="1.4" height="1" fill="#444"/>
<line x1="467.4" y1="575.1" x2="462.6" y2="575.1" stroke="#aaa" stroke-width="1"/>
<rect x="462.3" y="574.5" width="1.2" height="1.2" fill="#556"/>
<rect x="467.9" y="566.5" width="10.6" height="17" fill="#dcdcdc" stroke="#666" stroke-width="1"/>
<circle cx="474.2" cy="571" r="2.6" fill="#fff" stroke="#c4c4c4" stroke-width="0.5"/>
<rect x="472.4" y="576.4" width="3.2" height="5.6" fill="#a4f2a4" stroke="#7ac87a" stroke-width="0.6"/>
<rect x="468.79999999999995" y="578.3" width="1.4" height="1" fill="#444"/>
<line x1="115.4" y1="443.1" x2="110.6" y2="443.1" stroke="#aaa" stroke-width="1"/>
<rect x="110.3" y="442.5" width="1.2" height="1.2" fill="#556"/>
<rect x="115.9" y="434.5" width="10.6" height="17" fill="#dcdcdc" stroke="#666" stroke-width="1"/>
<circle cx="122.2" cy="439" r="2.6" fill="#fff" stroke="#c4c4c4" stroke-width="0.5"/>
<rect x="120.4" y="444.4" width="3.2" height="5.6" fill="#a4f2a4" stroke="#7ac87a" stroke-width="0.6"/>
<rect x="116.80000000000001" y="446.3" width="1.4" height="1" fill="#444"/>
<line x1="343.8" y1="264.40000000000003" x2="343.8" y2="269.5" stroke="#aaa" stroke-width="1"/>
<rect x="343.2" y="268.6" width="1.2" height="1.2" fill="#556"/>
<rect x="335.1" y="253.3" width="17.4" height="10.6" fill="#dcdcdc" stroke="#5a5a5a" stroke-width="1"/>
<circle cx="339.5" cy="257.90000000000003" r="2.7" fill="#fff" stroke="#c4c4c4" stroke-width="0.5"/>
<rect x="344.70000000000005" y="256.7" width="6" height="3.2" fill="#a4f2a4" stroke="#7ac87a" stroke-width="0.6"/>
<rect x="347.1" y="261.7" width="1" height="1.4" fill="#444"/>
<clipPath id="tc1"><path d="M455 257.7 H467.1 V285.5 H455 V277.4 H446.8 V265.5 H455 Z"/></clipPath>
<path d="M455 257.7 H467.1 V285.5 H455 V277.4 H446.8 V265.5 H455 Z" fill="#2cc42c"/>
<g clip-path="url(#tc1)"><path d="M457.9 254.7 H464.40000000000003 V288.5 H457.9 V274.59999999999997 H443.8 V268.3 H457.9 Z" fill="#fff" filter="url(#blur1)"/></g>
<line x1="456" y1="257.7" x2="466.1" y2="257.7" stroke="#bbb" stroke-width="0.6"/>
<line x1="456" y1="285.5" x2="466.1" y2="285.5" stroke="#bbb" stroke-width="0.6"/>
<line x1="446.8" y1="266.5" x2="446.8" y2="276.4" stroke="#bbb" stroke-width="0.6"/>
<line x1="460.9" y1="260.7" x2="460.9" y2="282.5" stroke="#c4c4c4" stroke-width="0.8"/>
<polygon points="459.59999999999997,262.7 460.9,260.4 462.2,262.7" fill="#111"/>
<polygon points="459.40000000000003,256.2 460.8,253.4 462.2,256.2" fill="#3d7a3d" stroke="#2f5f2f" stroke-width="0.3"/>
<polygon points="459.40000000000003,286.90000000000003 460.8,289.7 462.2,286.90000000000003" fill="#3d7a3d" stroke="#2f5f2f" stroke-width="0.3"/>
<polygon points="445.7,270.1 442.90000000000003,271.5 445.7,272.9" fill="#3d7a3d" stroke="#2f5f2f" stroke-width="0.3"/>
<polygon points="476.3,257.7 479.7,258.8 476.3,259.90000000000003" fill="#5a5aa0"/>
<clipPath id="tc2"><path d="M454.2 375.1 H466.3 V382.90000000000003 H474.5 V394.8 H466.3 V402.90000000000003 H454.2 Z"/></clipPath>
<path d="M454.2 375.1 H466.3 V382.90000000000003 H474.5 V394.8 H466.3 V402.90000000000003 H454.2 Z" fill="#2cc42c"/>
<g clip-path="url(#tc2)"><path d="M456.9 372.1 H463.40000000000003 V385.70000000000005 H477.5 V392.0 H463.40000000000003 V405.90000000000003 H456.9 Z" fill="#fff" filter="url(#blur1)"/></g>
<line x1="455.2" y1="375.1" x2="465.3" y2="375.1" stroke="#bbb" stroke-width="0.6"/>
<line x1="455.2" y1="402.90000000000003" x2="465.3" y2="402.90000000000003" stroke="#bbb" stroke-width="0.6"/>
<line x1="474.5" y1="383.90000000000003" x2="474.5" y2="393.8" stroke="#bbb" stroke-width="0.6"/>
<line x1="460.3" y1="378.1" x2="460.3" y2="399.90000000000003" stroke="#c4c4c4" stroke-width="0.8"/>
<polygon points="459.0,397.6 460.3,399.90000000000003 461.6,397.6" fill="#111"/>
<polygon points="459.40000000000003,373.9 460.8,371.1 462.2,373.9" fill="#3d7a3d" stroke="#2f5f2f" stroke-width="0.3"/>
<polygon points="459.40000000000003,404.6 460.8,407.4 462.2,404.6" fill="#3d7a3d" stroke="#2f5f2f" stroke-width="0.3"/>
<polygon points="445.59999999999997,399.79999999999995 442.2,400.9 445.59999999999997,402.0" fill="#5a5aa0"/>
<clipPath id="tc3"><path d="M454.2 492.8 H466.3 V500.6 H474.5 V512.5 H466.3 V520.6 H454.2 Z"/></clipPath>
<path d="M454.2 492.8 H466.3 V500.6 H474.5 V512.5 H466.3 V520.6 H454.2 Z" fill="#2cc42c"/>
<g clip-path="url(#tc3)"><path d="M456.9 489.8 H463.40000000000003 V503.40000000000003 H477.5 V509.7 H463.40000000000003 V523.6 H456.9 Z" fill="#fff" filter="url(#blur1)"/></g>
<line x1="455.2" y1="492.8" x2="465.3" y2="492.8" stroke="#bbb" stroke-width="0.6"/>
<line x1="455.2" y1="520.6" x2="465.3" y2="520.6" stroke="#bbb" stroke-width="0.6"/>
<line x1="474.5" y1="501.6" x2="474.5" y2="511.5" stroke="#bbb" stroke-width="0.6"/>
<line x1="460.3" y1="495.8" x2="460.3" y2="517.6" stroke="#c4c4c4" stroke-width="0.8"/>
<polygon points="459.0,515.3 460.3,517.6 461.6,515.3" fill="#111"/>
<polygon points="459.40000000000003,491.7 460.8,488.90000000000003 462.2,491.7" fill="#3d7a3d" stroke="#2f5f2f" stroke-width="0.3"/>
<polygon points="459.40000000000003,522.2 460.8,525.0 462.2,522.2" fill="#3d7a3d" stroke="#2f5f2f" stroke-width="0.3"/>
<polygon points="445.59999999999997,517.5 442.2,518.6 445.59999999999997,519.7" fill="#5a5aa0"/>
<clipPath id="celb"><path d="M454.2 610.2 H466.7 A7.7 7.7 0 0 0 474.4 617.9 V630.4 A20.2 20.2 0 0 1 454.2 610.2 Z"/></clipPath>
<path d="M454.2 610.2 H466.7 A7.7 7.7 0 0 0 474.4 617.9 V630.4 A20.2 20.2 0 0 1 454.2 610.2 Z" fill="#2cc42c"/>
<g clip-path="url(#celb)"><path d="M460.4 607 V610.2 A14 14 0 0 0 474.4 624.2 H478" fill="none" stroke="#fff" stroke-width="7" filter="url(#blur1)"/></g>
<line x1="455" y1="610.2" x2="466" y2="610.2" stroke="#bbb" stroke-width="0.6"/>
<line x1="474.4" y1="618.6" x2="474.4" y2="629.8" stroke="#bbb" stroke-width="0.6"/>
<path d="M460.6 612 A13.8 13.8 0 0 0 471.5 623.8" fill="none" stroke="#c4c4c4" stroke-width="0.8"/>
<circle cx="470.9" cy="623.3" r="1.25" fill="#111"/>
<line x1="460" y1="624.3" x2="456.4" y2="627.6" stroke="#aaa" stroke-width="0.6"/>
<circle cx="454.4" cy="629.5" r="2.4" fill="#fff" stroke="#4ccf4c" stroke-width="1.2"/>
<polygon points="459.40000000000003,609.1999999999999 460.8,606.4 462.2,609.1999999999999" fill="#3d7a3d" stroke="#2f5f2f" stroke-width="0.3"/>
<polygon points="476.90000000000003,622.8000000000001 479.7,624.2 476.90000000000003,625.6" fill="#3d7a3d" stroke="#2f5f2f" stroke-width="0.3"/>
<rect x="442.5" y="635.3" width="2.8" height="1.4" fill="#5a5aa8"/>
<circle cx="255.3" cy="271.5" r="1.85" fill="#e8e8e8" stroke="#0a0a0a" stroke-width="1.7"/>
<circle cx="431.6" cy="271.5" r="1.85" fill="#e8e8e8" stroke="#0a0a0a" stroke-width="1.7"/>
<circle cx="461" cy="301.5" r="1.85" fill="#e8e8e8" stroke="#0a0a0a" stroke-width="1.7"/>
<circle cx="461" cy="359.8" r="1.85" fill="#e8e8e8" stroke="#0a0a0a" stroke-width="1.7"/>
<circle cx="461" cy="418.5" r="1.85" fill="#e8e8e8" stroke="#0a0a0a" stroke-width="1.7"/>
<circle cx="461" cy="477.3" r="1.85" fill="#e8e8e8" stroke="#0a0a0a" stroke-width="1.7"/>
<circle cx="461" cy="536.4" r="1.85" fill="#e8e8e8" stroke="#0a0a0a" stroke-width="1.7"/>
<circle cx="461" cy="594.7" r="1.85" fill="#e8e8e8" stroke="#0a0a0a" stroke-width="1.7"/>
<circle cx="108.6" cy="345.5" r="1.85" fill="#e8e8e8" stroke="#0a0a0a" stroke-width="1.7"/>
<circle cx="108.4" cy="462.7" r="1.85" fill="#e8e8e8" stroke="#0a0a0a" stroke-width="1.7"/>
<circle cx="108.4" cy="551" r="1.85" fill="#e8e8e8" stroke="#0a0a0a" stroke-width="1.7"/>
<circle cx="108.6" cy="374.6" r="1.3" fill="#d01010"/>
<rect x="36.6" y="81.80000000000001" width="26.599999999999998" height="27.2" fill="#ffff7a" stroke="#8e8e3a" stroke-width="0.8"/>
<rect x="37.6" y="82.80000000000001" width="24.599999999999998" height="25.2" fill="none" stroke="#eaea44" stroke-width="1.2"/>
<polygon points="48.6,112 51.8,112 50.2,114.6" fill="#c9c030" stroke="#6b6b20" stroke-width="0.4"/>
<rect x="52.1" y="122.8" width="1.8" height="3" rx="0.5" fill="#e2d42e" stroke="#77702a" stroke-width="0.55"/>
<rect x="16.900000000000002" y="270.3" width="1.8" height="3" rx="0.5" fill="#e2d42e" stroke="#77702a" stroke-width="0.55"/>
<rect x="189.9" y="176.2" width="13.4" height="13.6" fill="#eaea2c" stroke="#c4c436" stroke-width="0.5"/>
<circle cx="196.6" cy="183.0" r="3.6" fill="#f4f4b4" filter="url(#blur08)"/>
<g transform="translate(196.6 183.0) rotate(0)" fill="#0a0a0a"><path d="M-5.4 0.4 C-5.9 -1.8 -2.4 -4 1 -4.7 C-0.8 -3.4 -2 -2 -2.9 0.6 C-3.4 1.8 -5.2 1.8 -5.4 0.4 Z"/><path d="M4.9 0.2 C5.4 2.4 1.9 4.6 -1.5 5.3 C0.3 4 1.5 2.6 2.4 0 C2.9 -1.2 4.7 -1.2 4.9 0.2 Z"/><polygon points="3.4,-2.6 4.4,-6 5.6,-2.6"/><polygon points="-5.8,3.2 -5.2,5.2 -3.2,5.2 -3.4,3.2"/></g>
<polygon points="188.4,182.4 186,183.8 188.4,185.2" fill="#b8b030" stroke="#6b6b20" stroke-width="0.4"/>
<rect x="205.3" y="182.1" width="3" height="1.8" rx="0.5" fill="#e2d42e" stroke="#77702a" stroke-width="0.55"/>
<rect x="161" y="250.2" width="13.4" height="13.6" fill="#eaea2c" stroke="#c4c436" stroke-width="0.5"/>
<circle cx="167.7" cy="257.0" r="3.6" fill="#f4f4b4" filter="url(#blur08)"/>
<g transform="translate(167.7 257.0) rotate(90)" fill="#0a0a0a"><path d="M-5.4 0.4 C-5.9 -1.8 -2.4 -4 1 -4.7 C-0.8 -3.4 -2 -2 -2.9 0.6 C-3.4 1.8 -5.2 1.8 -5.4 0.4 Z"/><path d="M4.9 0.2 C5.4 2.4 1.9 4.6 -1.5 5.3 C0.3 4 1.5 2.6 2.4 0 C2.9 -1.2 4.7 -1.2 4.9 0.2 Z"/><polygon points="3.4,-2.6 4.4,-6 5.6,-2.6"/><polygon points="-5.8,3.2 -5.2,5.2 -3.2,5.2 -3.4,3.2"/></g>
<rect x="166.7" y="245.3" width="1.8" height="3" rx="0.5" fill="#e2d42e" stroke="#77702a" stroke-width="0.55"/>
<polygon points="166,266.6 169.2,266.6 167.6,269.2" fill="#c9c030" stroke="#6b6b20" stroke-width="0.4"/>
<rect x="27.8" y="308.6" width="13.6" height="14" fill="#eaea2c" stroke="#c4c436" stroke-width="0.5"/>
<circle cx="34.6" cy="315.6" r="3.6" fill="#f4f4b4" filter="url(#blur08)"/>
<g transform="translate(34.6 315.6) rotate(90)" fill="#0a0a0a"><path d="M-5.4 0.4 C-5.9 -1.8 -2.4 -4 1 -4.7 C-0.8 -3.4 -2 -2 -2.9 0.6 C-3.4 1.8 -5.2 1.8 -5.4 0.4 Z"/><path d="M4.9 0.2 C5.4 2.4 1.9 4.6 -1.5 5.3 C0.3 4 1.5 2.6 2.4 0 C2.9 -1.2 4.7 -1.2 4.9 0.2 Z"/><polygon points="3.4,-2.6 4.4,-6 5.6,-2.6"/><polygon points="-5.8,3.2 -5.2,5.2 -3.2,5.2 -3.4,3.2"/></g>
<polygon points="33.6,304.6 36.8,304.6 35.2,307" fill="#c9c030" stroke="#6b6b20" stroke-width="0.4"/>
<rect x="34.300000000000004" y="325.0" width="1.8" height="3" rx="0.5" fill="#e2d42e" stroke="#77702a" stroke-width="0.55"/>
<polygon points="177,280.2 186.6,286.4 177,292.6" fill="#ffff6e" stroke="#d2d23c" stroke-width="0.7"/>
<circle cx="180.3" cy="286.4" r="0.8" fill="#444"/>
<rect x="170.3" y="285.3" width="3" height="1.8" rx="0.5" fill="#e2d42e" stroke="#77702a" stroke-width="0.55"/>
<polygon points="190.2,285.4 192.4,286.9 190.2,288.4" fill="#b8b030" stroke="#6b6b20" stroke-width="0.4"/>
<rect x="213.7" y="258.5" width="26.2" height="26.6" fill="#f2a9a9" stroke="#c97a7a" stroke-width="1"/>
<text x="226.79999999999998" y="271.8" font-family="'Liberation Sans', sans-serif" font-size="17.4" text-anchor="middle" dominant-baseline="central" fill="#111" stroke="#111" stroke-width="0.25" transform="rotate(-90 226.79999999999998 271.8)">F</text>
<rect x="207.2" y="264.90000000000003" width="3" height="1.8" rx="0.5" fill="#e2d42e" stroke="#77702a" stroke-width="0.55"/>
<rect x="207.2" y="268.47" width="3" height="1.8" rx="0.5" fill="#e2d42e" stroke="#77702a" stroke-width="0.55"/>
<rect x="207.2" y="272.04" width="3" height="1.8" rx="0.5" fill="#e2d42e" stroke="#77702a" stroke-width="0.55"/>
<rect x="207.2" y="275.61" width="3" height="1.8" rx="0.5" fill="#e2d42e" stroke="#77702a" stroke-width="0.55"/>
<rect x="207.2" y="279.18" width="3" height="1.8" rx="0.5" fill="#e2d42e" stroke="#77702a" stroke-width="0.55"/>
<rect x="207.2" y="282.75000000000006" width="3" height="1.8" rx="0.5" fill="#e2d42e" stroke="#77702a" stroke-width="0.55"/>
<polygon points="241.6,270.1 244.4,271.5 241.6,272.9" fill="#3d7a3d" stroke="#2f5f2f" stroke-width="0.3"/>
<rect x="95.0" y="302.3" width="26.2" height="26.6" fill="#f2a9a9" stroke="#c97a7a" stroke-width="1"/>
<text x="108.1" y="315.6" font-family="'Liberation Sans', sans-serif" font-size="17.4" text-anchor="middle" dominant-baseline="central" fill="#111" stroke="#111" stroke-width="0.25" transform="rotate(0 108.1 315.6)">F</text>
<rect x="95.69999999999999" y="296.7" width="1.8" height="3" rx="0.5" fill="#e2d42e" stroke="#77702a" stroke-width="0.55"/>
<rect x="99.24999999999999" y="296.7" width="1.8" height="3" rx="0.5" fill="#e2d42e" stroke="#77702a" stroke-width="0.55"/>
<rect x="102.79999999999998" y="296.7" width="1.8" height="3" rx="0.5" fill="#e2d42e" stroke="#77702a" stroke-width="0.55"/>
<rect x="106.35" y="296.7" width="1.8" height="3" rx="0.5" fill="#e2d42e" stroke="#77702a" stroke-width="0.55"/>
<rect x="109.89999999999999" y="296.7" width="1.8" height="3" rx="0.5" fill="#e2d42e" stroke="#77702a" stroke-width="0.55"/>
<rect x="113.44999999999999" y="296.7" width="1.8" height="3" rx="0.5" fill="#e2d42e" stroke="#77702a" stroke-width="0.55"/>
<polygon points="107.19999999999999,330.6 108.6,333.4 110.0,330.6" fill="#3d7a3d" stroke="#2f5f2f" stroke-width="0.3"/>
<line x1="108.3" y1="508" x2="108.3" y2="534.6" stroke="#666" stroke-width="1.1"/>
<line x1="99.5" y1="521.3" x2="116" y2="521.3" stroke="#999" stroke-width="0.6"/>
<rect x="102" y="518.2" width="12.1" height="6.2" fill="url(#gtee)" stroke="#3fb83f" stroke-width="0.7"/>
<rect x="115.4" y="516.1" width="6.6" height="10.3" fill="#8fe28f"/>
<text x="118.7" y="521.3" font-family="'Liberation Sans', sans-serif" font-size="7.4" text-anchor="middle" dominant-baseline="central" fill="#1a3a1a" transform="rotate(90 118.7 521.3)">S</text>
<line x1="96.8" y1="512.8" x2="96.8" y2="527" stroke="#c0c0c0" stroke-width="0.7"/>
<polygon points="95.5,526.8 98.1,526.8 96.8,529.8" fill="#111"/>
<polygon points="107.0,506.0 108.4,503.20000000000005 109.80000000000001,506.0" fill="#3d7a3d" stroke="#2f5f2f" stroke-width="0.3"/>
<polygon points="107.0,536.4 108.4,539.1999999999999 109.80000000000001,536.4" fill="#3d7a3d" stroke="#2f5f2f" stroke-width="0.3"/>
<polygon points="107.0,564.4 108.4,561.6 109.80000000000001,564.4" fill="#3d7a3d" stroke="#2f5f2f" stroke-width="0.3"/>
<polygon points="124.4,532 127.8,533.3 124.4,534.6" fill="#5a5aa8"/>
<rect x="95.0" y="566.8" width="26.2" height="26.6" fill="#f2a9a9" stroke="#c97a7a" stroke-width="1"/>
<text x="108.1" y="580.0999999999999" font-family="'Liberation Sans', sans-serif" font-size="17.4" text-anchor="middle" dominant-baseline="central" fill="#111" stroke="#111" stroke-width="0.25" transform="rotate(180 108.1 580.0999999999999)">P</text>
<rect x="106.1" y="595.9" width="1.8" height="3" rx="0.5" fill="#e2d42e" stroke="#77702a" stroke-width="0.55"/>
<rect x="109.64999999999999" y="595.9" width="1.8" height="3" rx="0.5" fill="#e2d42e" stroke="#77702a" stroke-width="0.55"/>
<rect x="113.19999999999999" y="595.9" width="1.8" height="3" rx="0.5" fill="#e2d42e" stroke="#77702a" stroke-width="0.55"/>
<rect x="116.75" y="595.9" width="1.8" height="3" rx="0.5" fill="#e2d42e" stroke="#77702a" stroke-width="0.55"/>
<rect x="120.3" y="595.9" width="1.8" height="3" rx="0.5" fill="#e2d42e" stroke="#77702a" stroke-width="0.55"/>
<rect x="0.95" y="128" width="153.1" height="140.05" fill="#fff" stroke="#2f4e15" stroke-width="1.9"/>
<path d="M63 176 V155.7 H137.4 V182.4" fill="none" stroke="#8c8cff" stroke-width="1.3"/>
<path d="M134.8 182 V185.4 H140.1 V182" fill="none" stroke="#4a4aff" stroke-width="1.3"/>
<path d="M63 210 V240.2 H36" fill="none" stroke="#8c8cff" stroke-width="1.3"/>
<path d="M33 240.2 H20.8 V252.5" fill="none" stroke="#6a6aff" stroke-width="1.8"/>
<path d="M20.8 252.5 V257" fill="none" stroke="#b0b0ff" stroke-width="1.4"/>
<path d="M18.5 256.8 V260 H23.3 V256.8" fill="none" stroke="#4a4aff" stroke-width="1.3"/>
<ellipse cx="84.6" cy="155.6" rx="3.9" ry="4.8" fill="#f0f0ff" stroke="#7a7aff" stroke-width="0.9"/>
<text x="84.6" y="155.7" font-family="'Liberation Sans', sans-serif" font-size="5.2" font-weight="bold" text-anchor="middle" dominant-baseline="central" fill="#3030f0" transform="rotate(90 84.6 155.7)">Ch</text>
<ellipse cx="37" cy="240.4" rx="3.9" ry="4.6" fill="#f0f0ff" stroke="#7a7aff" stroke-width="0.9"/>
<text x="37" y="240" font-family="'Liberation Sans', sans-serif" font-size="5.2" font-weight="bold" text-anchor="middle" dominant-baseline="central" fill="#3030f0" transform="rotate(90 37 240.4)">Ch</text>
<path d="M115.4 152.9 L120.6 158.5 M120.6 152.9 L115.4 158.5" stroke="#4a4aff" stroke-width="1.2" fill="none"/>
<ellipse cx="63.1" cy="193.2" rx="13.8" ry="17.3" fill="#c68e8e" stroke="#a04e4e" stroke-width="1.1"/>
<clipPath id="gp1"><polygon points="52.81,193.20 52.55,193.55 52.26,193.91 51.94,194.30 51.62,194.71 51.31,195.15 51.03,195.60 50.81,196.06 50.67,196.51 50.73,196.92 51.00,197.27 51.35,197.56 51.75,197.82 52.18,198.05 52.61,198.25 53.03,198.43 53.43,198.60 53.79,198.77 54.10,198.95 54.35,199.16 54.54,199.39 54.68,199.67 54.76,199.99 54.79,200.36 54.78,200.78 54.73,201.25 54.66,201.76 54.59,202.31 54.52,202.88 54.47,203.46 54.46,204.03 54.50,204.57 54.60,205.04 54.84,205.33 55.21,205.41 55.64,205.39 56.09,205.30 56.54,205.17 56.98,205.01 57.41,204.85 57.81,204.69 58.18,204.57 58.51,204.49 58.81,204.47 59.08,204.51 59.32,204.64 59.54,204.84 59.73,205.12 59.92,205.47 60.10,205.88 60.29,206.35 60.49,206.84 60.70,207.35 60.93,207.86 61.19,208.33 61.47,208.74 61.77,209.04 62.10,209.10 62.44,208.89 62.78,208.56 63.10,208.16 63.40,207.72 63.69,207.27 63.95,206.82 64.21,206.40 64.45,206.02 64.68,205.71 64.91,205.47 65.15,205.31 65.41,205.24 65.67,205.24 65.96,205.32 66.28,205.47 66.62,205.67 66.99,205.90 67.38,206.16 67.79,206.42 68.22,206.66 68.65,206.85 69.06,206.97 69.45,207.00 69.75,206.80 69.92,206.37 70.04,205.86 70.11,205.30 70.15,204.72 70.17,204.15 70.18,203.59 70.18,203.06 70.20,202.58 70.25,202.16 70.32,201.79 70.44,201.49 70.61,201.24 70.83,201.04 71.10,200.90 71.42,200.78 71.79,200.69 72.20,200.61 72.64,200.53 73.10,200.44 73.55,200.31 73.99,200.15 74.38,199.95 74.71,199.68 74.86,199.30 74.80,198.83 74.65,198.33 74.45,197.82 74.21,197.33 73.95,196.85 73.70,196.39 73.45,195.96 73.25,195.56 73.08,195.18 72.97,194.83 72.92,194.49 72.94,194.17 73.03,193.85 73.18,193.53 73.39,193.20 73.65,192.85 73.94,192.49 74.26,192.10 74.58,191.69 74.89,191.25 75.17,190.80 75.39,190.34 75.53,189.89 75.47,189.48 75.20,189.13 74.85,188.84 74.45,188.58 74.02,188.35 73.59,188.15 73.17,187.97 72.77,187.80 72.41,187.63 72.10,187.45 71.85,187.24 71.66,187.01 71.52,186.73 71.44,186.41 71.41,186.04 71.42,185.62 71.47,185.15 71.54,184.64 71.61,184.09 71.68,183.52 71.73,182.94 71.74,182.37 71.70,181.83 71.60,181.36 71.36,181.07 70.99,180.99 70.56,181.01 70.11,181.10 69.66,181.23 69.22,181.39 68.79,181.55 68.39,181.71 68.02,181.83 67.69,181.91 67.39,181.93 67.12,181.89 66.88,181.76 66.66,181.56 66.47,181.28 66.28,180.93 66.10,180.52 65.91,180.05 65.71,179.56 65.50,179.05 65.27,178.54 65.01,178.07 64.73,177.66 64.43,177.36 64.10,177.30 63.76,177.51 63.42,177.84 63.10,178.24 62.80,178.68 62.51,179.13 62.25,179.58 61.99,180.00 61.75,180.38 61.52,180.69 61.29,180.93 61.05,181.09 60.79,181.16 60.53,181.16 60.24,181.08 59.92,180.93 59.58,180.73 59.21,180.50 58.82,180.24 58.41,179.98 57.98,179.74 57.55,179.55 57.14,179.43 56.75,179.40 56.45,179.60 56.28,180.03 56.16,180.54 56.09,181.10 56.05,181.68 56.03,182.25 56.02,182.81 56.02,183.34 56.00,183.82 55.95,184.24 55.88,184.61 55.76,184.91 55.59,185.16 55.37,185.36 55.10,185.50 54.78,185.62 54.41,185.71 54.00,185.79 53.56,185.87 53.10,185.96 52.65,186.09 52.21,186.25 51.82,186.45 51.49,186.72 51.34,187.10 51.40,187.57 51.55,188.07 51.75,188.58 51.99,189.07 52.25,189.55 52.50,190.01 52.75,190.44 52.95,190.84 53.12,191.22 53.23,191.57 53.28,191.91 53.26,192.23 53.17,192.55 53.02,192.87"/></clipPath>
<polygon points="52.81,193.20 52.55,193.55 52.26,193.91 51.94,194.30 51.62,194.71 51.31,195.15 51.03,195.60 50.81,196.06 50.67,196.51 50.73,196.92 51.00,197.27 51.35,197.56 51.75,197.82 52.18,198.05 52.61,198.25 53.03,198.43 53.43,198.60 53.79,198.77 54.10,198.95 54.35,199.16 54.54,199.39 54.68,199.67 54.76,199.99 54.79,200.36 54.78,200.78 54.73,201.25 54.66,201.76 54.59,202.31 54.52,202.88 54.47,203.46 54.46,204.03 54.50,204.57 54.60,205.04 54.84,205.33 55.21,205.41 55.64,205.39 56.09,205.30 56.54,205.17 56.98,205.01 57.41,204.85 57.81,204.69 58.18,204.57 58.51,204.49 58.81,204.47 59.08,204.51 59.32,204.64 59.54,204.84 59.73,205.12 59.92,205.47 60.10,205.88 60.29,206.35 60.49,206.84 60.70,207.35 60.93,207.86 61.19,208.33 61.47,208.74 61.77,209.04 62.10,209.10 62.44,208.89 62.78,208.56 63.10,208.16 63.40,207.72 63.69,207.27 63.95,206.82 64.21,206.40 64.45,206.02 64.68,205.71 64.91,205.47 65.15,205.31 65.41,205.24 65.67,205.24 65.96,205.32 66.28,205.47 66.62,205.67 66.99,205.90 67.38,206.16 67.79,206.42 68.22,206.66 68.65,206.85 69.06,206.97 69.45,207.00 69.75,206.80 69.92,206.37 70.04,205.86 70.11,205.30 70.15,204.72 70.17,204.15 70.18,203.59 70.18,203.06 70.20,202.58 70.25,202.16 70.32,201.79 70.44,201.49 70.61,201.24 70.83,201.04 71.10,200.90 71.42,200.78 71.79,200.69 72.20,200.61 72.64,200.53 73.10,200.44 73.55,200.31 73.99,200.15 74.38,199.95 74.71,199.68 74.86,199.30 74.80,198.83 74.65,198.33 74.45,197.82 74.21,197.33 73.95,196.85 73.70,196.39 73.45,195.96 73.25,195.56 73.08,195.18 72.97,194.83 72.92,194.49 72.94,194.17 73.03,193.85 73.18,193.53 73.39,193.20 73.65,192.85 73.94,192.49 74.26,192.10 74.58,191.69 74.89,191.25 75.17,190.80 75.39,190.34 75.53,189.89 75.47,189.48 75.20,189.13 74.85,188.84 74.45,188.58 74.02,188.35 73.59,188.15 73.17,187.97 72.77,187.80 72.41,187.63 72.10,187.45 71.85,187.24 71.66,187.01 71.52,186.73 71.44,186.41 71.41,186.04 71.42,185.62 71.47,185.15 71.54,184.64 71.61,184.09 71.68,183.52 71.73,182.94 71.74,182.37 71.70,181.83 71.60,181.36 71.36,181.07 70.99,180.99 70.56,181.01 70.11,181.10 69.66,181.23 69.22,181.39 68.79,181.55 68.39,181.71 68.02,181.83 67.69,181.91 67.39,181.93 67.12,181.89 66.88,181.76 66.66,181.56 66.47,181.28 66.28,180.93 66.10,180.52 65.91,180.05 65.71,179.56 65.50,179.05 65.27,178.54 65.01,178.07 64.73,177.66 64.43,177.36 64.10,177.30 63.76,177.51 63.42,177.84 63.10,178.24 62.80,178.68 62.51,179.13 62.25,179.58 61.99,180.00 61.75,180.38 61.52,180.69 61.29,180.93 61.05,181.09 60.79,181.16 60.53,181.16 60.24,181.08 59.92,180.93 59.58,180.73 59.21,180.50 58.82,180.24 58.41,179.98 57.98,179.74 57.55,179.55 57.14,179.43 56.75,179.40 56.45,179.60 56.28,180.03 56.16,180.54 56.09,181.10 56.05,181.68 56.03,182.25 56.02,182.81 56.02,183.34 56.00,183.82 55.95,184.24 55.88,184.61 55.76,184.91 55.59,185.16 55.37,185.36 55.10,185.50 54.78,185.62 54.41,185.71 54.00,185.79 53.56,185.87 53.10,185.96 52.65,186.09 52.21,186.25 51.82,186.45 51.49,186.72 51.34,187.10 51.40,187.57 51.55,188.07 51.75,188.58 51.99,189.07 52.25,189.55 52.50,190.01 52.75,190.44 52.95,190.84 53.12,191.22 53.23,191.57 53.28,191.91 53.26,192.23 53.17,192.55 53.02,192.87" fill="#f3dfdd" stroke="#a65c5c" stroke-width="0.5"/>
<g clip-path="url(#gp1)" fill="#ffffff">
<ellipse cx="58.55" cy="181.61" rx="1.79" ry="2.94" transform="rotate(35 58.55 181.61)"/>
<ellipse cx="53.85" cy="188.53" rx="2.21" ry="3.29" transform="rotate(10 53.85 188.53)"/>
<ellipse cx="53.58" cy="197.87" rx="2.21" ry="3.29" transform="rotate(-10 53.58 197.87)"/>
<ellipse cx="57.99" cy="204.62" rx="1.79" ry="2.60" transform="rotate(-35 57.99 204.62)"/>
<ellipse cx="65.86" cy="206.87" rx="0.97" ry="1.38" transform="rotate(0 65.86 206.87)"/>
<ellipse cx="66.14" cy="179.53" rx="0.97" ry="1.38" transform="rotate(0 66.14 179.53)"/>
</g>
<g clip-path="url(#gp1)"><polygon points="54.48,192.68 54.19,193.01 53.90,193.36 53.62,193.72 53.36,194.11 53.40,194.46 53.52,194.80 53.86,195.08 54.21,195.35 54.55,195.59 54.91,195.80 55.26,196.00 55.61,196.18 55.97,196.34 56.33,196.47 56.68,196.59 57.04,196.68 57.39,196.75 57.56,196.92 57.66,197.14 57.51,197.53 57.35,197.94 57.22,198.37 57.09,198.81 56.98,199.26 56.89,199.72 56.81,200.19 56.74,200.67 56.69,201.17 56.65,201.67 56.63,202.18 56.70,202.59 56.91,202.84 57.24,202.90 57.65,202.83 58.04,202.75 58.43,202.65 58.81,202.52 59.18,202.39 59.54,202.23 59.89,202.06 60.23,201.87 60.55,201.66 60.87,201.44 61.17,201.22 61.35,201.31 61.50,201.50 61.59,201.94 61.69,202.38 61.81,202.81 61.95,203.25 62.10,203.68 62.27,204.11 62.45,204.54 62.65,204.96 62.87,205.38 63.11,205.79 63.36,206.19 63.63,206.33 63.92,206.34 64.20,205.99 64.47,205.62 64.73,205.23 64.97,204.84 65.19,204.44 65.40,204.03 65.59,203.62 65.76,203.20 65.92,202.78 66.06,202.36 66.18,201.94 66.32,201.64 66.51,201.57 66.75,201.70 67.05,201.97 67.35,202.21 67.67,202.45 68.00,202.67 68.35,202.87 68.70,203.06 69.06,203.23 69.44,203.39 69.82,203.53 70.21,203.64 70.61,203.74 70.84,203.52 71.01,203.22 71.04,202.71 71.04,202.20 71.04,201.71 71.01,201.21 70.97,200.73 70.92,200.26 70.85,199.79 70.76,199.34 70.66,198.89 70.55,198.46 70.42,198.04 70.45,197.77 70.56,197.56 70.90,197.53 71.26,197.49 71.63,197.42 71.99,197.34 72.36,197.23 72.73,197.11 73.09,196.96 73.46,196.79 73.82,196.60 74.19,196.39 74.55,196.16 74.80,195.87 74.87,195.52 74.74,195.13 74.50,194.72 74.24,194.34 73.98,193.97 73.70,193.62 73.42,193.29 73.13,192.97 72.84,192.68 72.54,192.41 72.23,192.15 71.92,191.92 71.62,191.70 71.59,191.46 71.65,191.20 71.91,190.89 72.16,190.56 72.40,190.21 72.63,189.85 72.86,189.47 73.07,189.07 73.27,188.66 73.46,188.23 73.64,187.78 73.81,187.32 73.96,186.85 73.92,186.48 73.78,186.16 73.40,186.03 73.00,185.92 72.61,185.84 72.22,185.77 71.83,185.73 71.45,185.71 71.07,185.71 70.69,185.73 70.33,185.77 69.96,185.83 69.61,185.91 69.33,185.90 69.19,185.74 69.16,185.40 69.20,184.95 69.21,184.49 69.22,184.03 69.20,183.56 69.17,183.09 69.13,182.61 69.06,182.13 68.98,181.65 68.89,181.16 68.77,180.67 68.64,180.20 68.38,180.05 68.08,180.02 67.72,180.25 67.36,180.49 67.02,180.75 66.70,181.02 66.38,181.31 66.08,181.61 65.80,181.92 65.52,182.23 65.27,182.57 65.02,182.90 64.80,183.25 64.59,183.35 64.40,183.34 64.20,182.98 63.99,182.61 63.77,182.25 63.53,181.90 63.27,181.55 63.00,181.22 62.71,180.89 62.41,180.58 62.10,180.28 61.77,179.99 61.43,179.71 61.11,179.58 60.84,179.68 60.63,180.02 60.47,180.49 60.33,180.96 60.21,181.43 60.10,181.90 60.01,182.37 59.94,182.84 59.89,183.31 59.85,183.77 59.83,184.23 59.82,184.68 59.82,185.12 59.67,185.27 59.46,185.34 59.12,185.21 58.76,185.11 58.40,185.02 58.03,184.94 57.66,184.89 57.28,184.86 56.89,184.85 56.50,184.86 56.10,184.89 55.70,184.93 55.30,185.01 55.06,185.24 54.91,185.54 55.01,186.03 55.13,186.51 55.27,186.98 55.43,187.43 55.59,187.87 55.77,188.30 55.96,188.71 56.16,189.11 56.37,189.49 56.59,189.85 56.82,190.20 56.96,190.50 56.91,190.74 56.70,190.94 56.37,191.13 56.04,191.33 55.72,191.56 55.40,191.81 55.09,192.08 54.79,192.37" fill="#f6e6e4" stroke="#b47474" stroke-width="0.55" stroke-linejoin="round"/></g>
<ellipse cx="64.20" cy="192.68" rx="6.21" ry="7.79" fill="none" stroke="#b98080" stroke-width="0.5" stroke-dasharray="1.6 0.9"/>
<line x1="64.20" y1="192.68" x2="71.66" y2="203.23" stroke="#9a5050" stroke-width="0.55"/>
<path d="M65.40 193.38 L64.00 191.78 L62.80 192.18 L63.80 193.28 Z" fill="#7b3434"/>
<rect x="62.5" y="175.09999999999997" width="1.2" height="1.2" fill="#f0a060"/>
<rect x="62.5" y="210.1" width="1.2" height="1.2" fill="#f0a060"/>
<text x="72.2" y="179" font-family="'Liberation Sans', sans-serif" font-size="3.8" text-anchor="middle" fill="#b04040" >1</text>
<path d="M77.8 203.8 H82 M77.8 207 H82" stroke="#8b2b2b" stroke-width="1" fill="none"/>
<path d="M81.6 203.8 H87 M81.6 207 H87" stroke="#2cbc2c" stroke-width="1" fill="none"/>
<path d="M74.5 205.4 H80" stroke="#b99" stroke-width="0.5" stroke-dasharray="1 1" fill="none"/>
<rect x="86.7" y="197.6" width="8.6" height="15.8" rx="4.3" fill="#eaffea" stroke="#22b822" stroke-width="1.3"/>
<text x="90.9" y="204.4" font-family="'Liberation Sans', sans-serif" font-size="5.6" font-weight="bold" text-anchor="middle" fill="#22a822" transform="translate(181.8 0) scale(-1 1)">ω</text>
<text x="90.9" y="210.9" font-family="'Liberation Sans', sans-serif" font-size="4.8" font-weight="bold" text-anchor="middle" fill="#22a822" transform="translate(181.8 0) scale(-1 1)">Θ</text>
<line x1="95.6" y1="202.6" x2="100" y2="202.6" stroke="#3c3" stroke-width="0.8"/>
<line x1="100" y1="202.6" x2="105" y2="202.6" stroke="#f77" stroke-width="0.8"/>
<polygon points="96,201.2 98.4,202.6 96,204" fill="#3c3"/>
<polygon points="105.4,201.4 103.2,202.6 105.4,203.8" fill="#f88"/>
<ellipse cx="110.5" cy="202.5" rx="5.4" ry="7.2" fill="#fffafa" stroke="#ff7878" stroke-width="0.9"/>
<path d="M107.4 205.4 L109.2 198.6 H110 L112.4 205.4 H114" fill="none" stroke="#ff6060" stroke-width="0.8"/>
<text x="0" y="0" font-family="'Liberation Sans', sans-serif" font-size="4.25" text-anchor="middle" fill="#1c1c1c" stroke="#1c1c1c" stroke-width="0.18" transform="translate(84.6 137.9) scale(-1 1)">delivery fixed</text>
<text x="0" y="0" font-family="'Liberation Sans', sans-serif" font-size="4.25" text-anchor="middle" fill="#1c1c1c" stroke="#1c1c1c" stroke-width="0.18" transform="translate(84.6 143.7) scale(-1 1)">volume</text>
<text x="0" y="0" font-family="'Liberation Sans', sans-serif" font-size="4.25" text-anchor="middle" fill="#1c1c1c" stroke="#1c1c1c" stroke-width="0.18" transform="translate(118.2 140.7) scale(-1 1)">load orifice</text>
<text x="0" y="0" font-family="'Liberation Sans', sans-serif" font-size="4.25" text-anchor="middle" fill="#1c1c1c" stroke="#1c1c1c" stroke-width="0.18" transform="translate(37 223) scale(-1 1)">inlet fixed</text>
<text x="0" y="0" font-family="'Liberation Sans', sans-serif" font-size="4.25" text-anchor="middle" fill="#1c1c1c" stroke="#1c1c1c" stroke-width="0.18" transform="translate(37 229) scale(-1 1)">volume</text>
<rect x="151.1" y="161.6" width="3" height="1.8" rx="0.5" fill="#e2d42e" stroke="#77702a" stroke-width="0.55"/>
<rect x="151.6" y="196.6" width="2.4" height="1.8" fill="#5a5aa8"/>
<line x1="154.6" y1="127.9" x2="328.8" y2="2.6" stroke="#2f4e15" stroke-width="1.9"/>
<line x1="154.6" y1="268" x2="328.9" y2="200" stroke="#2f4e15" stroke-width="2"/>
<rect x="328.95" y="0.7" width="285.05" height="199.3" fill="#fff" stroke="#2f4e15" stroke-width="1.9"/>
<path d="M449 69.5 V61 H448.4 V32.8 H554.8 V58.6" fill="none" stroke="#6060ff" stroke-width="1.3"/>
<path d="M555.3 101.5 V147 L554.7 148.8 V172" fill="none" stroke="#6a6aff" stroke-width="1"/>
<path d="M435 116.3 H481 V92.6 H502" fill="none" stroke="#ff3c3c" stroke-width="0.9" stroke-dasharray="3 1.2 0.8 1.2"/>
<path d="M502 92.6 H509" fill="none" stroke="#3c3" stroke-width="0.8"/>
<path d="M435 124.2 H448.7 V88" fill="none" stroke="#ff3c3c" stroke-width="0.9" stroke-dasharray="3 1.2 0.8 1.2"/>
<path d="M448.9 81 V88.4" fill="none" stroke="#4a4aff" stroke-width="1"/>
<path d="M435 131.6 H480.2 V194.8 H553.6 L555.2 192" fill="none" stroke="#ff3c3c" stroke-width="0.9" stroke-dasharray="3 1.2 0.8 1.2"/>
<path d="M537 155.4 H331.8 V123.4 H341" fill="none" stroke="#ff3c3c" stroke-width="0.9" stroke-dasharray="3 1.2 0.8 1.2"/>
<path d="M506 90.2 L509 92.6 L506 95" fill="none" stroke="#3c3" stroke-width="0.8"/>
<path d="M447 84.8 L449 81.6 L451 84.8" fill="none" stroke="#3030e0" stroke-width="0.7"/>
<path d="M553.4 186.8 L555.4 183.6 L557.4 186.8" fill="none" stroke="#3030e0" stroke-width="0.7"/>
<path d="M338.2 120.8 L341.4 123.4 L338.2 126" fill="none" stroke="#333" stroke-width="0.7"/>
<rect x="341.6" y="108.6" width="91" height="31.2" rx="3.2" fill="#fff" stroke="#555" stroke-width="0.8"/>
<path d="M432.8 114.0 L435.4 116.3 L432.8 118.6" fill="#fff" stroke="#555" stroke-width="0.6"/>
<path d="M432.8 121.9 L435.4 124.2 L432.8 126.5" fill="#fff" stroke="#555" stroke-width="0.6"/>
<path d="M432.8 129.29999999999998 L435.4 131.6 L432.8 133.9" fill="#fff" stroke="#555" stroke-width="0.6"/>
<text x="346" y="127.1" font-family="'Liberation Sans', sans-serif" font-size="4.4" text-anchor="start" fill="#111" stroke="#111" stroke-width="0.12" textLength="17.2" lengthAdjust="spacingAndGlyphs">Vol_Flow</text>
<text x="373.2" y="119.1" font-family="'Liberation Sans', sans-serif" font-size="4.4" text-anchor="start" fill="#111" stroke="#111" stroke-width="0.12" textLength="25.2" lengthAdjust="spacingAndGlyphs">Pump_Speed</text>
<text x="373.2" y="127.1" font-family="'Liberation Sans', sans-serif" font-size="4.4" text-anchor="start" fill="#111" stroke="#111" stroke-width="0.12" textLength="42.8" lengthAdjust="spacingAndGlyphs">Pressure_downstream</text>
<text x="373.2" y="134.9" font-family="'Liberation Sans', sans-serif" font-size="4.4" text-anchor="start" fill="#111" stroke="#111" stroke-width="0.12" textLength="37.4" lengthAdjust="spacingAndGlyphs">Pressure_upstream</text>
<text x="526.8" y="10.8" font-family="'Liberation Sans', sans-serif" font-size="6.3" text-anchor="middle" fill="#333" >inlet fixed</text>
<text x="526.8" y="18.9" font-family="'Liberation Sans', sans-serif" font-size="6.3" text-anchor="middle" fill="#333" >volume</text>
<text x="590" y="127.6" font-family="'Liberation Sans', sans-serif" font-size="6.3" text-anchor="middle" fill="#333" >delivery fixed</text>
<text x="590" y="135.7" font-family="'Liberation Sans', sans-serif" font-size="6.3" text-anchor="middle" fill="#333" >volume</text>
<ellipse cx="524.3" cy="32.8" rx="5.3" ry="6.5" fill="#f2f2ff" stroke="#6a6aff" stroke-width="0.9"/>
<text x="524.3" y="32.8" font-family="'Liberation Sans', sans-serif" font-size="7.2" font-weight="bold" text-anchor="middle" dominant-baseline="central" fill="#2020f0" transform="rotate(90 524.3 32.8)">Ch</text>
<circle cx="555.4" cy="128.6" r="5.6" fill="#f4f4ff" stroke="#7070ff" stroke-width="0.9"/>
<text x="0" y="0" font-family="'Liberation Sans', sans-serif" font-size="7" font-weight="bold" text-anchor="middle" dominant-baseline="central" fill="#1010e8" stroke="#1010e8" stroke-width="0.2" transform="translate(555.4 128.7) scale(-1 1)">Ch</text>
<ellipse cx="406" cy="69.7" rx="10.3" ry="11.1" fill="#fff" stroke="#1414ff" stroke-width="1.3"/>
<path d="M406 62.3 C406.5 65.4 410.6 68.4 410.6 71.4 A4.6 4.6 0 0 1 401.4 71.4 C401.4 68.4 405.5 65.4 406 62.3 Z" fill="#1414ff"/>
<circle cx="407.6" cy="70.3" r="0.8" fill="#fff"/>
<ellipse cx="449.1" cy="75.2" rx="5.3" ry="5.6" fill="#f8f8ff" stroke="#1818ff" stroke-width="1.4"/>
<text x="449.1" y="75.2" font-family="'Liberation Sans', sans-serif" font-size="5.2" text-anchor="middle" dominant-baseline="central" fill="#3a3aff" transform="rotate(-90 449.1 75.2)">P</text>
<ellipse cx="555.1" cy="177.6" rx="5.2" ry="5.9" fill="#f8f8ff" stroke="#1818ff" stroke-width="1.4"/>
<text x="555.1" y="177.6" font-family="'Liberation Sans', sans-serif" font-size="5.2" text-anchor="middle" dominant-baseline="central" fill="#3a3aff" transform="rotate(-90 555.1 177.6)">P</text>
<path d="M555.2 184 V192.4" fill="none" stroke="#4a4aff" stroke-width="1.1"/>
<path d="M537.6 155.4 L540.6 153.4 V157.4 Z" fill="#fff" stroke="#1818ff" stroke-width="0.7"/>
<ellipse cx="545.1" cy="155.4" rx="4.4" ry="5.6" fill="#f8f8ff" stroke="#1818ff" stroke-width="1.5"/>
<circle cx="545.1" cy="155.4" r="2.3" fill="none" stroke="#9a9ab0" stroke-width="0.5"/>
<text x="545.1" y="155.5" font-family="'Liberation Sans', sans-serif" font-size="5.2" text-anchor="middle" dominant-baseline="central" fill="#3a3aff">Q</text>
<rect x="551.8" y="151.9" width="6.8" height="6.2" fill="#fff" stroke="#1818ff" stroke-width="1.4"/>
<rect x="554.3" y="154.1" width="1.8" height="1.9" fill="#1818ff"/>
<ellipse cx="555.3" cy="80.6" rx="19.4" ry="21.5" fill="#c68e8e" stroke="#a04e4e" stroke-width="1.1"/>
<clipPath id="gp2"><polygon points="569.76,80.60 570.13,81.03 570.54,81.49 570.98,81.97 571.44,82.48 571.87,83.02 572.26,83.58 572.58,84.15 572.77,84.72 572.69,85.23 572.32,85.65 571.82,86.02 571.26,86.35 570.65,86.63 570.05,86.87 569.45,87.10 568.89,87.31 568.39,87.52 567.96,87.75 567.60,88.00 567.33,88.30 567.14,88.64 567.02,89.04 566.98,89.50 567.00,90.02 567.07,90.61 567.16,91.24 567.26,91.92 567.36,92.63 567.43,93.35 567.45,94.06 567.40,94.73 567.25,95.31 566.92,95.68 566.39,95.77 565.79,95.75 565.16,95.64 564.53,95.48 563.90,95.28 563.30,95.07 562.74,94.88 562.22,94.73 561.75,94.63 561.33,94.60 560.95,94.66 560.61,94.81 560.31,95.06 560.03,95.41 559.77,95.85 559.51,96.36 559.25,96.94 558.97,97.55 558.67,98.19 558.35,98.82 557.99,99.40 557.59,99.91 557.17,100.29 556.70,100.36 556.22,100.10 555.75,99.69 555.30,99.19 554.87,98.65 554.47,98.08 554.10,97.52 553.74,97.00 553.41,96.54 553.08,96.15 552.75,95.85 552.41,95.65 552.06,95.56 551.68,95.56 551.27,95.66 550.83,95.85 550.35,96.09 549.83,96.39 549.28,96.71 548.70,97.03 548.10,97.32 547.50,97.56 546.92,97.71 546.37,97.75 545.95,97.50 545.71,96.97 545.54,96.34 545.44,95.64 545.38,94.92 545.36,94.20 545.35,93.51 545.34,92.86 545.31,92.26 545.25,91.73 545.15,91.28 544.98,90.90 544.74,90.59 544.44,90.35 544.05,90.16 543.60,90.02 543.08,89.91 542.50,89.81 541.89,89.71 541.25,89.59 540.61,89.44 540.00,89.24 539.44,88.98 538.98,88.65 538.77,88.19 538.85,87.60 539.06,86.97 539.34,86.35 539.68,85.73 540.04,85.13 540.41,84.56 540.74,84.03 541.04,83.53 541.27,83.06 541.42,82.62 541.49,82.21 541.46,81.81 541.34,81.41 541.13,81.01 540.84,80.60 540.47,80.17 540.06,79.71 539.62,79.23 539.16,78.72 538.73,78.18 538.34,77.62 538.02,77.05 537.83,76.48 537.91,75.97 538.28,75.55 538.78,75.18 539.34,74.85 539.95,74.57 540.55,74.33 541.15,74.10 541.71,73.89 542.21,73.68 542.64,73.45 543.00,73.20 543.27,72.90 543.46,72.56 543.58,72.16 543.62,71.70 543.60,71.18 543.53,70.59 543.44,69.96 543.34,69.28 543.24,68.57 543.17,67.85 543.15,67.14 543.20,66.47 543.35,65.89 543.68,65.52 544.21,65.43 544.81,65.45 545.44,65.56 546.07,65.72 546.70,65.92 547.30,66.13 547.86,66.32 548.38,66.47 548.85,66.57 549.27,66.60 549.65,66.54 549.99,66.39 550.29,66.14 550.57,65.79 550.83,65.35 551.09,64.84 551.35,64.26 551.63,63.65 551.93,63.01 552.25,62.38 552.61,61.80 553.01,61.29 553.43,60.91 553.90,60.84 554.38,61.10 554.85,61.51 555.30,62.01 555.73,62.55 556.13,63.12 556.50,63.68 556.86,64.20 557.19,64.66 557.52,65.05 557.85,65.35 558.19,65.55 558.54,65.64 558.92,65.64 559.33,65.54 559.77,65.35 560.25,65.11 560.77,64.81 561.32,64.49 561.90,64.17 562.50,63.88 563.10,63.64 563.68,63.49 564.23,63.45 564.65,63.70 564.89,64.23 565.06,64.86 565.16,65.56 565.22,66.28 565.24,67.00 565.25,67.69 565.26,68.34 565.29,68.94 565.35,69.47 565.45,69.92 565.62,70.30 565.86,70.61 566.16,70.85 566.55,71.04 567.00,71.18 567.52,71.29 568.10,71.39 568.71,71.49 569.35,71.61 569.99,71.76 570.60,71.96 571.16,72.22 571.62,72.55 571.83,73.01 571.75,73.60 571.54,74.23 571.26,74.85 570.92,75.47 570.56,76.07 570.19,76.64 569.86,77.17 569.56,77.67 569.33,78.14 569.18,78.58 569.11,78.99 569.14,79.39 569.26,79.79 569.47,80.19"/></clipPath>
<polygon points="569.76,80.60 570.13,81.03 570.54,81.49 570.98,81.97 571.44,82.48 571.87,83.02 572.26,83.58 572.58,84.15 572.77,84.72 572.69,85.23 572.32,85.65 571.82,86.02 571.26,86.35 570.65,86.63 570.05,86.87 569.45,87.10 568.89,87.31 568.39,87.52 567.96,87.75 567.60,88.00 567.33,88.30 567.14,88.64 567.02,89.04 566.98,89.50 567.00,90.02 567.07,90.61 567.16,91.24 567.26,91.92 567.36,92.63 567.43,93.35 567.45,94.06 567.40,94.73 567.25,95.31 566.92,95.68 566.39,95.77 565.79,95.75 565.16,95.64 564.53,95.48 563.90,95.28 563.30,95.07 562.74,94.88 562.22,94.73 561.75,94.63 561.33,94.60 560.95,94.66 560.61,94.81 560.31,95.06 560.03,95.41 559.77,95.85 559.51,96.36 559.25,96.94 558.97,97.55 558.67,98.19 558.35,98.82 557.99,99.40 557.59,99.91 557.17,100.29 556.70,100.36 556.22,100.10 555.75,99.69 555.30,99.19 554.87,98.65 554.47,98.08 554.10,97.52 553.74,97.00 553.41,96.54 553.08,96.15 552.75,95.85 552.41,95.65 552.06,95.56 551.68,95.56 551.27,95.66 550.83,95.85 550.35,96.09 549.83,96.39 549.28,96.71 548.70,97.03 548.10,97.32 547.50,97.56 546.92,97.71 546.37,97.75 545.95,97.50 545.71,96.97 545.54,96.34 545.44,95.64 545.38,94.92 545.36,94.20 545.35,93.51 545.34,92.86 545.31,92.26 545.25,91.73 545.15,91.28 544.98,90.90 544.74,90.59 544.44,90.35 544.05,90.16 543.60,90.02 543.08,89.91 542.50,89.81 541.89,89.71 541.25,89.59 540.61,89.44 540.00,89.24 539.44,88.98 538.98,88.65 538.77,88.19 538.85,87.60 539.06,86.97 539.34,86.35 539.68,85.73 540.04,85.13 540.41,84.56 540.74,84.03 541.04,83.53 541.27,83.06 541.42,82.62 541.49,82.21 541.46,81.81 541.34,81.41 541.13,81.01 540.84,80.60 540.47,80.17 540.06,79.71 539.62,79.23 539.16,78.72 538.73,78.18 538.34,77.62 538.02,77.05 537.83,76.48 537.91,75.97 538.28,75.55 538.78,75.18 539.34,74.85 539.95,74.57 540.55,74.33 541.15,74.10 541.71,73.89 542.21,73.68 542.64,73.45 543.00,73.20 543.27,72.90 543.46,72.56 543.58,72.16 543.62,71.70 543.60,71.18 543.53,70.59 543.44,69.96 543.34,69.28 543.24,68.57 543.17,67.85 543.15,67.14 543.20,66.47 543.35,65.89 543.68,65.52 544.21,65.43 544.81,65.45 545.44,65.56 546.07,65.72 546.70,65.92 547.30,66.13 547.86,66.32 548.38,66.47 548.85,66.57 549.27,66.60 549.65,66.54 549.99,66.39 550.29,66.14 550.57,65.79 550.83,65.35 551.09,64.84 551.35,64.26 551.63,63.65 551.93,63.01 552.25,62.38 552.61,61.80 553.01,61.29 553.43,60.91 553.90,60.84 554.38,61.10 554.85,61.51 555.30,62.01 555.73,62.55 556.13,63.12 556.50,63.68 556.86,64.20 557.19,64.66 557.52,65.05 557.85,65.35 558.19,65.55 558.54,65.64 558.92,65.64 559.33,65.54 559.77,65.35 560.25,65.11 560.77,64.81 561.32,64.49 561.90,64.17 562.50,63.88 563.10,63.64 563.68,63.49 564.23,63.45 564.65,63.70 564.89,64.23 565.06,64.86 565.16,65.56 565.22,66.28 565.24,67.00 565.25,67.69 565.26,68.34 565.29,68.94 565.35,69.47 565.45,69.92 565.62,70.30 565.86,70.61 566.16,70.85 566.55,71.04 567.00,71.18 567.52,71.29 568.10,71.39 568.71,71.49 569.35,71.61 569.99,71.76 570.60,71.96 571.16,72.22 571.62,72.55 571.83,73.01 571.75,73.60 571.54,74.23 571.26,74.85 570.92,75.47 570.56,76.07 570.19,76.64 569.86,77.17 569.56,77.67 569.33,78.14 569.18,78.58 569.11,78.99 569.14,79.39 569.26,79.79 569.47,80.19" fill="#f3dfdd" stroke="#a65c5c" stroke-width="0.5"/>
<g clip-path="url(#gp2)" fill="#ffffff">
<ellipse cx="561.70" cy="66.19" rx="2.52" ry="3.66" transform="rotate(-35 561.70 66.19)"/>
<ellipse cx="568.30" cy="74.79" rx="3.10" ry="4.08" transform="rotate(-10 568.30 74.79)"/>
<ellipse cx="568.69" cy="86.41" rx="3.10" ry="4.08" transform="rotate(10 568.69 86.41)"/>
<ellipse cx="562.48" cy="94.79" rx="2.52" ry="3.23" transform="rotate(35 562.48 94.79)"/>
<ellipse cx="551.42" cy="97.58" rx="1.36" ry="1.72" transform="rotate(0 551.42 97.58)"/>
<ellipse cx="551.03" cy="63.61" rx="1.36" ry="1.72" transform="rotate(0 551.03 63.61)"/>
</g>
<g clip-path="url(#gp2)"><polygon points="567.41,79.95 567.82,80.36 568.23,80.80 568.62,81.25 568.99,81.73 568.94,82.17 568.77,82.59 568.29,82.94 567.80,83.27 567.31,83.56 566.82,83.84 566.32,84.08 565.82,84.30 565.32,84.50 564.82,84.67 564.32,84.81 563.82,84.92 563.32,85.01 563.08,85.23 562.95,85.49 563.17,85.98 563.38,86.49 563.57,87.02 563.74,87.57 563.90,88.13 564.03,88.70 564.15,89.29 564.24,89.89 564.32,90.50 564.37,91.12 564.40,91.75 564.30,92.28 564.00,92.58 563.53,92.65 562.97,92.57 562.41,92.47 561.87,92.34 561.33,92.19 560.82,92.02 560.31,91.82 559.82,91.61 559.34,91.37 558.88,91.12 558.43,90.84 558.01,90.56 557.76,90.68 557.55,90.92 557.42,91.46 557.28,92.00 557.11,92.55 556.92,93.09 556.71,93.63 556.47,94.16 556.21,94.69 555.93,95.22 555.62,95.73 555.29,96.24 554.94,96.74 554.55,96.92 554.15,96.93 553.75,96.50 553.37,96.03 553.01,95.55 552.68,95.06 552.36,94.56 552.07,94.06 551.81,93.55 551.56,93.03 551.34,92.51 551.14,91.98 550.97,91.46 550.77,91.09 550.51,91.00 550.16,91.17 549.75,91.49 549.32,91.80 548.87,92.09 548.41,92.37 547.92,92.62 547.43,92.85 546.92,93.07 546.39,93.26 545.85,93.43 545.30,93.58 544.74,93.70 544.42,93.43 544.18,93.05 544.14,92.42 544.13,91.79 544.14,91.17 544.18,90.56 544.23,89.96 544.31,89.37 544.41,88.79 544.53,88.23 544.67,87.67 544.83,87.14 545.01,86.61 544.96,86.28 544.82,86.02 544.33,85.98 543.82,85.93 543.31,85.85 542.80,85.74 542.29,85.61 541.77,85.45 541.25,85.27 540.74,85.06 540.22,84.83 539.71,84.56 539.20,84.27 538.85,83.92 538.76,83.49 538.93,83.00 539.28,82.49 539.64,82.01 540.01,81.56 540.40,81.12 540.79,80.71 541.19,80.32 541.61,79.95 542.03,79.61 542.46,79.30 542.90,79.01 543.33,78.74 543.36,78.44 543.28,78.12 542.92,77.73 542.57,77.32 542.23,76.89 541.90,76.44 541.58,75.96 541.28,75.47 541.00,74.95 540.73,74.42 540.48,73.86 540.25,73.29 540.03,72.70 540.09,72.24 540.28,71.85 540.82,71.68 541.38,71.55 541.93,71.45 542.48,71.37 543.02,71.32 543.56,71.29 544.10,71.29 544.62,71.32 545.14,71.37 545.65,71.44 546.15,71.53 546.54,71.53 546.74,71.33 546.78,70.91 546.73,70.35 546.70,69.78 546.70,69.21 546.72,68.62 546.76,68.03 546.83,67.44 546.92,66.84 547.03,66.24 547.17,65.64 547.33,65.03 547.51,64.44 547.88,64.26 548.30,64.22 548.81,64.51 549.31,64.81 549.79,65.13 550.25,65.47 550.69,65.82 551.11,66.19 551.51,66.58 551.89,66.97 552.25,67.38 552.60,67.81 552.92,68.24 553.20,68.36 553.47,68.35 553.75,67.90 554.04,67.44 554.36,66.99 554.70,66.55 555.06,66.13 555.44,65.71 555.84,65.30 556.26,64.91 556.70,64.54 557.17,64.18 557.65,63.84 558.10,63.67 558.48,63.80 558.78,64.21 559.00,64.80 559.19,65.38 559.37,65.97 559.51,66.56 559.64,67.14 559.74,67.72 559.82,68.30 559.87,68.88 559.90,69.45 559.91,70.01 559.91,70.56 560.13,70.74 560.42,70.83 560.90,70.67 561.40,70.54 561.91,70.43 562.42,70.34 562.95,70.28 563.49,70.24 564.03,70.22 564.58,70.23 565.14,70.27 565.70,70.33 566.27,70.42 566.60,70.70 566.82,71.08 566.68,71.68 566.50,72.28 566.30,72.87 566.09,73.43 565.86,73.98 565.61,74.51 565.34,75.02 565.06,75.52 564.76,75.99 564.45,76.44 564.13,76.87 563.93,77.24 564.00,77.54 564.30,77.79 564.76,78.02 565.22,78.28 565.67,78.57 566.12,78.88 566.56,79.21 566.99,79.57" fill="#f6e6e4" stroke="#b47474" stroke-width="0.55" stroke-linejoin="round"/></g>
<ellipse cx="553.75" cy="79.95" rx="8.73" ry="9.68" fill="none" stroke="#b98080" stroke-width="0.5" stroke-dasharray="1.6 0.9"/>
<line x1="553.75" y1="79.95" x2="543.27" y2="93.07" stroke="#9a5050" stroke-width="0.55"/>
<path d="M552.55 80.66 L553.95 79.05 L555.15 79.45 L554.15 80.55 Z" fill="#7b3434"/>
<rect x="554.6999999999999" y="58.3" width="1.2" height="1.2" fill="#f0a060"/>
<rect x="554.6999999999999" y="101.69999999999999" width="1.2" height="1.2" fill="#f0a060"/>
<text x="541.5" y="61.5" font-family="'Liberation Sans', sans-serif" font-size="4.4" text-anchor="middle" fill="#c33" >1</text>
<path d="M520.4 94.1 H529 M520.4 98.3 H529" stroke="#22b022" stroke-width="1.4" fill="none"/>
<path d="M528.8 94.1 H534.2 M528.8 98.3 H534.2" stroke="#8b2020" stroke-width="1.4" fill="none"/>
<path d="M526.6 96.4 H529.2" stroke="#3c3" stroke-width="0.6" fill="none"/>
<path d="M533.5 96.8 L539.5 94.8" stroke="#a55" stroke-width="0.6" stroke-dasharray="1.4 0.9" fill="none"/>
<rect x="509.8" y="86.4" width="10.8" height="19.2" rx="5.4" fill="#fafffa" stroke="#1fb01f" stroke-width="1.4"/>
<text x="515.2" y="94.6" font-family="'Liberation Sans', sans-serif" font-size="7.4" text-anchor="middle" fill="#1fa81f">ω</text>
<text x="515.2" y="102.9" font-family="'Liberation Sans', sans-serif" font-size="7.6" text-anchor="middle" fill="#1fa81f">Θ</text>
</g>
</svg>
</body></html>
